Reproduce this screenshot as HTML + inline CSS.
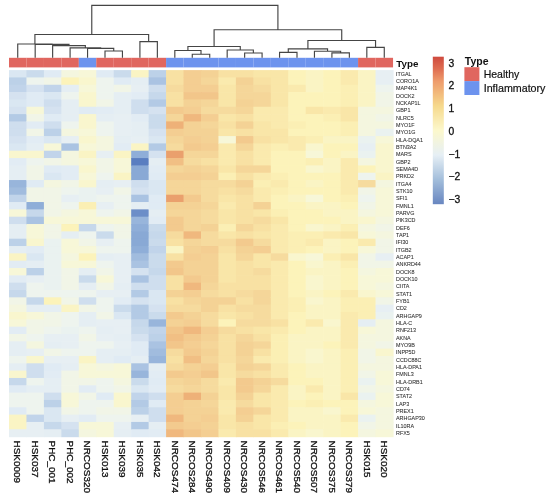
<!DOCTYPE html>
<html><head><meta charset="utf-8"><style>
html,body{margin:0;padding:0;background:#fff;}
body{width:550px;height:498px;overflow:hidden;font-family:"Liberation Sans",sans-serif;}
svg{display:block;filter:blur(0.4px);}
</style></head><body>
<svg width="550" height="498" viewBox="0 0 550 498" font-family="Liberation Sans, sans-serif"><defs><linearGradient id="cg" x1="0" y1="0" x2="0" y2="1"><stop offset="0.0%" stop-color="#CF4A3E"/><stop offset="8.3%" stop-color="#DF6E52"/><stop offset="16.7%" stop-color="#EE9C6C"/><stop offset="33.3%" stop-color="#F6D98C"/><stop offset="50.0%" stop-color="#FCF8CC"/><stop offset="66.7%" stop-color="#E6EFF5"/><stop offset="83.3%" stop-color="#A3BEDB"/><stop offset="100.0%" stop-color="#6886C0"/></linearGradient></defs>
<rect x="9.00" y="70.10" width="18.05" height="7.93" fill="#dae7f2"/>
<rect x="9.00" y="77.43" width="18.05" height="7.93" fill="#bcd1e8"/>
<rect x="9.00" y="84.76" width="18.05" height="7.93" fill="#c1d4ea"/>
<rect x="9.00" y="92.09" width="18.05" height="7.93" fill="#d5e2f0"/>
<rect x="9.00" y="99.42" width="18.05" height="7.93" fill="#dae7f2"/>
<rect x="9.00" y="106.75" width="18.05" height="7.93" fill="#d5e2f0"/>
<rect x="9.00" y="114.08" width="18.05" height="7.93" fill="#b3cae5"/>
<rect x="9.00" y="121.41" width="18.05" height="7.93" fill="#cfdeee"/>
<rect x="9.00" y="128.74" width="18.05" height="7.93" fill="#cfdeee"/>
<rect x="9.00" y="136.07" width="18.05" height="7.93" fill="#d5e2f0"/>
<rect x="9.00" y="143.40" width="18.05" height="7.93" fill="#dae7f2"/>
<rect x="9.00" y="150.73" width="18.05" height="7.93" fill="#f9f6ce"/>
<rect x="9.00" y="158.06" width="18.05" height="7.93" fill="#e2ecf4"/>
<rect x="9.00" y="165.39" width="18.05" height="7.93" fill="#e5eef3"/>
<rect x="9.00" y="172.72" width="18.05" height="7.93" fill="#e5eef3"/>
<rect x="9.00" y="180.05" width="18.05" height="7.93" fill="#98b5db"/>
<rect x="9.00" y="187.38" width="18.05" height="7.93" fill="#a1bcde"/>
<rect x="9.00" y="194.71" width="18.05" height="7.93" fill="#c1d4ea"/>
<rect x="9.00" y="202.04" width="18.05" height="7.93" fill="#e0ebf4"/>
<rect x="9.00" y="209.37" width="18.05" height="7.93" fill="#f7f7d8"/>
<rect x="9.00" y="216.70" width="18.05" height="7.93" fill="#cfdeee"/>
<rect x="9.00" y="224.03" width="18.05" height="7.93" fill="#e5eef3"/>
<rect x="9.00" y="231.36" width="18.05" height="7.93" fill="#e5eef3"/>
<rect x="9.00" y="238.69" width="18.05" height="7.93" fill="#bcd1e8"/>
<rect x="9.00" y="246.02" width="18.05" height="7.93" fill="#e5eef3"/>
<rect x="9.00" y="253.35" width="18.05" height="7.93" fill="#faf4c4"/>
<rect x="9.00" y="260.68" width="18.05" height="7.93" fill="#e2ecf4"/>
<rect x="9.00" y="268.01" width="18.05" height="7.93" fill="#f7f7d8"/>
<rect x="9.00" y="275.34" width="18.05" height="7.93" fill="#e2ecf4"/>
<rect x="9.00" y="282.67" width="18.05" height="7.93" fill="#cfdeee"/>
<rect x="9.00" y="290.00" width="18.05" height="7.93" fill="#c6d8eb"/>
<rect x="9.00" y="297.33" width="18.05" height="7.93" fill="#f1f5e7"/>
<rect x="9.00" y="304.66" width="18.05" height="7.93" fill="#f4f6df"/>
<rect x="9.00" y="311.99" width="18.05" height="7.93" fill="#f9f6ce"/>
<rect x="9.00" y="319.32" width="18.05" height="7.93" fill="#f7f7d8"/>
<rect x="9.00" y="326.65" width="18.05" height="7.93" fill="#e2ecf4"/>
<rect x="9.00" y="333.98" width="18.05" height="7.93" fill="#f1f5e7"/>
<rect x="9.00" y="341.31" width="18.05" height="7.93" fill="#e5eef3"/>
<rect x="9.00" y="348.64" width="18.05" height="7.93" fill="#e5eef3"/>
<rect x="9.00" y="355.97" width="18.05" height="7.93" fill="#eef4ee"/>
<rect x="9.00" y="363.30" width="18.05" height="7.93" fill="#e5eef3"/>
<rect x="9.00" y="370.63" width="18.05" height="7.93" fill="#f9f6ce"/>
<rect x="9.00" y="377.96" width="18.05" height="7.93" fill="#c6d8eb"/>
<rect x="9.00" y="385.29" width="18.05" height="7.93" fill="#e0ebf4"/>
<rect x="9.00" y="392.62" width="18.05" height="7.93" fill="#eef4ee"/>
<rect x="9.00" y="399.95" width="18.05" height="7.93" fill="#eef4ee"/>
<rect x="9.00" y="407.28" width="18.05" height="7.93" fill="#e0ebf4"/>
<rect x="9.00" y="414.61" width="18.05" height="7.93" fill="#faf4c4"/>
<rect x="9.00" y="421.94" width="18.05" height="7.93" fill="#faf4c4"/>
<rect x="9.00" y="429.27" width="18.05" height="7.93" fill="#e7eff3"/>
<rect x="26.45" y="70.10" width="18.05" height="7.93" fill="#cadbec"/>
<rect x="26.45" y="77.43" width="18.05" height="7.93" fill="#eef4ee"/>
<rect x="26.45" y="84.76" width="18.05" height="7.93" fill="#d5e2f0"/>
<rect x="26.45" y="92.09" width="18.05" height="7.93" fill="#e0ebf4"/>
<rect x="26.45" y="99.42" width="18.05" height="7.93" fill="#e0ebf4"/>
<rect x="26.45" y="106.75" width="18.05" height="7.93" fill="#f7f7d8"/>
<rect x="26.45" y="114.08" width="18.05" height="7.93" fill="#f1f5e7"/>
<rect x="26.45" y="121.41" width="18.05" height="7.93" fill="#e2ecf4"/>
<rect x="26.45" y="128.74" width="18.05" height="7.93" fill="#f1f5e7"/>
<rect x="26.45" y="136.07" width="18.05" height="7.93" fill="#e2ecf4"/>
<rect x="26.45" y="143.40" width="18.05" height="7.93" fill="#e5eef3"/>
<rect x="26.45" y="150.73" width="18.05" height="7.93" fill="#f9f6ce"/>
<rect x="26.45" y="158.06" width="18.05" height="7.93" fill="#eef4ee"/>
<rect x="26.45" y="165.39" width="18.05" height="7.93" fill="#f1f5e7"/>
<rect x="26.45" y="172.72" width="18.05" height="7.93" fill="#f1f5e7"/>
<rect x="26.45" y="180.05" width="18.05" height="7.93" fill="#e0ebf4"/>
<rect x="26.45" y="187.38" width="18.05" height="7.93" fill="#f1f5e7"/>
<rect x="26.45" y="194.71" width="18.05" height="7.93" fill="#f1f5e7"/>
<rect x="26.45" y="202.04" width="18.05" height="7.93" fill="#8faed8"/>
<rect x="26.45" y="209.37" width="18.05" height="7.93" fill="#c6d8eb"/>
<rect x="26.45" y="216.70" width="18.05" height="7.93" fill="#aac3e2"/>
<rect x="26.45" y="224.03" width="18.05" height="7.93" fill="#f7f7d8"/>
<rect x="26.45" y="231.36" width="18.05" height="7.93" fill="#f7f7d8"/>
<rect x="26.45" y="238.69" width="18.05" height="7.93" fill="#f9f6ce"/>
<rect x="26.45" y="246.02" width="18.05" height="7.93" fill="#e2ecf4"/>
<rect x="26.45" y="253.35" width="18.05" height="7.93" fill="#dae7f2"/>
<rect x="26.45" y="260.68" width="18.05" height="7.93" fill="#e5eef3"/>
<rect x="26.45" y="268.01" width="18.05" height="7.93" fill="#bcd1e8"/>
<rect x="26.45" y="275.34" width="18.05" height="7.93" fill="#e7eff3"/>
<rect x="26.45" y="282.67" width="18.05" height="7.93" fill="#eef4ee"/>
<rect x="26.45" y="290.00" width="18.05" height="7.93" fill="#eef4ee"/>
<rect x="26.45" y="297.33" width="18.05" height="7.93" fill="#c6d8eb"/>
<rect x="26.45" y="304.66" width="18.05" height="7.93" fill="#e5eef3"/>
<rect x="26.45" y="311.99" width="18.05" height="7.93" fill="#f7f7d8"/>
<rect x="26.45" y="319.32" width="18.05" height="7.93" fill="#f1f5e7"/>
<rect x="26.45" y="326.65" width="18.05" height="7.93" fill="#f1f5e7"/>
<rect x="26.45" y="333.98" width="18.05" height="7.93" fill="#eef4ee"/>
<rect x="26.45" y="341.31" width="18.05" height="7.93" fill="#f4f6df"/>
<rect x="26.45" y="348.64" width="18.05" height="7.93" fill="#e7eff3"/>
<rect x="26.45" y="355.97" width="18.05" height="7.93" fill="#f9f6ce"/>
<rect x="26.45" y="363.30" width="18.05" height="7.93" fill="#cfdeee"/>
<rect x="26.45" y="370.63" width="18.05" height="7.93" fill="#cfdeee"/>
<rect x="26.45" y="377.96" width="18.05" height="7.93" fill="#eef4ee"/>
<rect x="26.45" y="385.29" width="18.05" height="7.93" fill="#e5eef3"/>
<rect x="26.45" y="392.62" width="18.05" height="7.93" fill="#eef4ee"/>
<rect x="26.45" y="399.95" width="18.05" height="7.93" fill="#eef4ee"/>
<rect x="26.45" y="407.28" width="18.05" height="7.93" fill="#eef4ee"/>
<rect x="26.45" y="414.61" width="18.05" height="7.93" fill="#c1d4ea"/>
<rect x="26.45" y="421.94" width="18.05" height="7.93" fill="#e7eff3"/>
<rect x="26.45" y="429.27" width="18.05" height="7.93" fill="#e7eff3"/>
<rect x="43.91" y="70.10" width="18.05" height="7.93" fill="#e0ebf4"/>
<rect x="43.91" y="77.43" width="18.05" height="7.93" fill="#f1f5e7"/>
<rect x="43.91" y="84.76" width="18.05" height="7.93" fill="#c1d4ea"/>
<rect x="43.91" y="92.09" width="18.05" height="7.93" fill="#dae7f2"/>
<rect x="43.91" y="99.42" width="18.05" height="7.93" fill="#cfdeee"/>
<rect x="43.91" y="106.75" width="18.05" height="7.93" fill="#d5e2f0"/>
<rect x="43.91" y="114.08" width="18.05" height="7.93" fill="#e0ebf4"/>
<rect x="43.91" y="121.41" width="18.05" height="7.93" fill="#cfdeee"/>
<rect x="43.91" y="128.74" width="18.05" height="7.93" fill="#bcd1e8"/>
<rect x="43.91" y="136.07" width="18.05" height="7.93" fill="#dae7f2"/>
<rect x="43.91" y="143.40" width="18.05" height="7.93" fill="#f7f7d8"/>
<rect x="43.91" y="150.73" width="18.05" height="7.93" fill="#c1d4ea"/>
<rect x="43.91" y="158.06" width="18.05" height="7.93" fill="#f1f5e7"/>
<rect x="43.91" y="165.39" width="18.05" height="7.93" fill="#e0ebf4"/>
<rect x="43.91" y="172.72" width="18.05" height="7.93" fill="#dae7f2"/>
<rect x="43.91" y="180.05" width="18.05" height="7.93" fill="#f4f6df"/>
<rect x="43.91" y="187.38" width="18.05" height="7.93" fill="#f1f5e7"/>
<rect x="43.91" y="194.71" width="18.05" height="7.93" fill="#f1f5e7"/>
<rect x="43.91" y="202.04" width="18.05" height="7.93" fill="#f1f5e7"/>
<rect x="43.91" y="209.37" width="18.05" height="7.93" fill="#f1f5e7"/>
<rect x="43.91" y="216.70" width="18.05" height="7.93" fill="#f7f7d8"/>
<rect x="43.91" y="224.03" width="18.05" height="7.93" fill="#f1f5e7"/>
<rect x="43.91" y="231.36" width="18.05" height="7.93" fill="#f1f5e7"/>
<rect x="43.91" y="238.69" width="18.05" height="7.93" fill="#eaf2f0"/>
<rect x="43.91" y="246.02" width="18.05" height="7.93" fill="#eaf2f0"/>
<rect x="43.91" y="253.35" width="18.05" height="7.93" fill="#eaf2f0"/>
<rect x="43.91" y="260.68" width="18.05" height="7.93" fill="#eaf2f0"/>
<rect x="43.91" y="268.01" width="18.05" height="7.93" fill="#eaf2f0"/>
<rect x="43.91" y="275.34" width="18.05" height="7.93" fill="#eaf2f0"/>
<rect x="43.91" y="282.67" width="18.05" height="7.93" fill="#eaf2f0"/>
<rect x="43.91" y="290.00" width="18.05" height="7.93" fill="#eef4ee"/>
<rect x="43.91" y="297.33" width="18.05" height="7.93" fill="#fcf3ba"/>
<rect x="43.91" y="304.66" width="18.05" height="7.93" fill="#e5eef3"/>
<rect x="43.91" y="311.99" width="18.05" height="7.93" fill="#f1f5e7"/>
<rect x="43.91" y="319.32" width="18.05" height="7.93" fill="#f1f5e7"/>
<rect x="43.91" y="326.65" width="18.05" height="7.93" fill="#eef4ee"/>
<rect x="43.91" y="333.98" width="18.05" height="7.93" fill="#e7eff3"/>
<rect x="43.91" y="341.31" width="18.05" height="7.93" fill="#e5eef3"/>
<rect x="43.91" y="348.64" width="18.05" height="7.93" fill="#f1f5e7"/>
<rect x="43.91" y="355.97" width="18.05" height="7.93" fill="#e7eff3"/>
<rect x="43.91" y="363.30" width="18.05" height="7.93" fill="#e0ebf4"/>
<rect x="43.91" y="370.63" width="18.05" height="7.93" fill="#e2ecf4"/>
<rect x="43.91" y="377.96" width="18.05" height="7.93" fill="#e5eef3"/>
<rect x="43.91" y="385.29" width="18.05" height="7.93" fill="#e5eef3"/>
<rect x="43.91" y="392.62" width="18.05" height="7.93" fill="#cfdeee"/>
<rect x="43.91" y="399.95" width="18.05" height="7.93" fill="#bcd1e8"/>
<rect x="43.91" y="407.28" width="18.05" height="7.93" fill="#dae7f2"/>
<rect x="43.91" y="414.61" width="18.05" height="7.93" fill="#dae7f2"/>
<rect x="43.91" y="421.94" width="18.05" height="7.93" fill="#c6d8eb"/>
<rect x="43.91" y="429.27" width="18.05" height="7.93" fill="#e5eef3"/>
<rect x="61.36" y="70.10" width="18.05" height="7.93" fill="#f4f6df"/>
<rect x="61.36" y="77.43" width="18.05" height="7.93" fill="#fcf3ba"/>
<rect x="61.36" y="84.76" width="18.05" height="7.93" fill="#e5eef3"/>
<rect x="61.36" y="92.09" width="18.05" height="7.93" fill="#eef4ee"/>
<rect x="61.36" y="99.42" width="18.05" height="7.93" fill="#e5eef3"/>
<rect x="61.36" y="106.75" width="18.05" height="7.93" fill="#e5eef3"/>
<rect x="61.36" y="114.08" width="18.05" height="7.93" fill="#e5eef3"/>
<rect x="61.36" y="121.41" width="18.05" height="7.93" fill="#eef4ee"/>
<rect x="61.36" y="128.74" width="18.05" height="7.93" fill="#f4f6df"/>
<rect x="61.36" y="136.07" width="18.05" height="7.93" fill="#e7eff3"/>
<rect x="61.36" y="143.40" width="18.05" height="7.93" fill="#aac3e2"/>
<rect x="61.36" y="150.73" width="18.05" height="7.93" fill="#f4f6df"/>
<rect x="61.36" y="158.06" width="18.05" height="7.93" fill="#f4f6df"/>
<rect x="61.36" y="165.39" width="18.05" height="7.93" fill="#e2ecf4"/>
<rect x="61.36" y="172.72" width="18.05" height="7.93" fill="#e2ecf4"/>
<rect x="61.36" y="180.05" width="18.05" height="7.93" fill="#f1f5e7"/>
<rect x="61.36" y="187.38" width="18.05" height="7.93" fill="#eef4ee"/>
<rect x="61.36" y="194.71" width="18.05" height="7.93" fill="#e7eff3"/>
<rect x="61.36" y="202.04" width="18.05" height="7.93" fill="#eef4ee"/>
<rect x="61.36" y="209.37" width="18.05" height="7.93" fill="#f4f6df"/>
<rect x="61.36" y="216.70" width="18.05" height="7.93" fill="#f7f7d8"/>
<rect x="61.36" y="224.03" width="18.05" height="7.93" fill="#fcf3ba"/>
<rect x="61.36" y="231.36" width="18.05" height="7.93" fill="#e5eef3"/>
<rect x="61.36" y="238.69" width="18.05" height="7.93" fill="#f7f7d8"/>
<rect x="61.36" y="246.02" width="18.05" height="7.93" fill="#f7f7d8"/>
<rect x="61.36" y="253.35" width="18.05" height="7.93" fill="#f4f6df"/>
<rect x="61.36" y="260.68" width="18.05" height="7.93" fill="#f7f7d8"/>
<rect x="61.36" y="268.01" width="18.05" height="7.93" fill="#f1f5e7"/>
<rect x="61.36" y="275.34" width="18.05" height="7.93" fill="#f1f5e7"/>
<rect x="61.36" y="282.67" width="18.05" height="7.93" fill="#f1f5e7"/>
<rect x="61.36" y="290.00" width="18.05" height="7.93" fill="#eef4ee"/>
<rect x="61.36" y="297.33" width="18.05" height="7.93" fill="#f1f5e7"/>
<rect x="61.36" y="304.66" width="18.05" height="7.93" fill="#faf4c4"/>
<rect x="61.36" y="311.99" width="18.05" height="7.93" fill="#eef4ee"/>
<rect x="61.36" y="319.32" width="18.05" height="7.93" fill="#eef4ee"/>
<rect x="61.36" y="326.65" width="18.05" height="7.93" fill="#eaf2f0"/>
<rect x="61.36" y="333.98" width="18.05" height="7.93" fill="#e7eff3"/>
<rect x="61.36" y="341.31" width="18.05" height="7.93" fill="#e7eff3"/>
<rect x="61.36" y="348.64" width="18.05" height="7.93" fill="#eef4ee"/>
<rect x="61.36" y="355.97" width="18.05" height="7.93" fill="#e7eff3"/>
<rect x="61.36" y="363.30" width="18.05" height="7.93" fill="#e5eef3"/>
<rect x="61.36" y="370.63" width="18.05" height="7.93" fill="#f1f5e7"/>
<rect x="61.36" y="377.96" width="18.05" height="7.93" fill="#f1f5e7"/>
<rect x="61.36" y="385.29" width="18.05" height="7.93" fill="#f1f5e7"/>
<rect x="61.36" y="392.62" width="18.05" height="7.93" fill="#f7f7d8"/>
<rect x="61.36" y="399.95" width="18.05" height="7.93" fill="#f7f7d8"/>
<rect x="61.36" y="407.28" width="18.05" height="7.93" fill="#f1f5e7"/>
<rect x="61.36" y="414.61" width="18.05" height="7.93" fill="#e7eff3"/>
<rect x="61.36" y="421.94" width="18.05" height="7.93" fill="#d5e2f0"/>
<rect x="61.36" y="429.27" width="18.05" height="7.93" fill="#cadbec"/>
<rect x="78.82" y="70.10" width="18.05" height="7.93" fill="#f7f7d8"/>
<rect x="78.82" y="77.43" width="18.05" height="7.93" fill="#f9f6ce"/>
<rect x="78.82" y="84.76" width="18.05" height="7.93" fill="#f7f7d8"/>
<rect x="78.82" y="92.09" width="18.05" height="7.93" fill="#f9f6ce"/>
<rect x="78.82" y="99.42" width="18.05" height="7.93" fill="#f9f6ce"/>
<rect x="78.82" y="106.75" width="18.05" height="7.93" fill="#e0ebf4"/>
<rect x="78.82" y="114.08" width="18.05" height="7.93" fill="#f9f6ce"/>
<rect x="78.82" y="121.41" width="18.05" height="7.93" fill="#f9f6ce"/>
<rect x="78.82" y="128.74" width="18.05" height="7.93" fill="#f7f7d8"/>
<rect x="78.82" y="136.07" width="18.05" height="7.93" fill="#f9f6ce"/>
<rect x="78.82" y="143.40" width="18.05" height="7.93" fill="#f7f7d8"/>
<rect x="78.82" y="150.73" width="18.05" height="7.93" fill="#faf4c4"/>
<rect x="78.82" y="158.06" width="18.05" height="7.93" fill="#f7f7d8"/>
<rect x="78.82" y="165.39" width="18.05" height="7.93" fill="#f9f6ce"/>
<rect x="78.82" y="172.72" width="18.05" height="7.93" fill="#f7f7d8"/>
<rect x="78.82" y="180.05" width="18.05" height="7.93" fill="#f9f6ce"/>
<rect x="78.82" y="187.38" width="18.05" height="7.93" fill="#eaf2f0"/>
<rect x="78.82" y="194.71" width="18.05" height="7.93" fill="#eaf2f0"/>
<rect x="78.82" y="202.04" width="18.05" height="7.93" fill="#fbefb4"/>
<rect x="78.82" y="209.37" width="18.05" height="7.93" fill="#f7f7d8"/>
<rect x="78.82" y="216.70" width="18.05" height="7.93" fill="#f7f7d8"/>
<rect x="78.82" y="224.03" width="18.05" height="7.93" fill="#c6d8eb"/>
<rect x="78.82" y="231.36" width="18.05" height="7.93" fill="#eef4ee"/>
<rect x="78.82" y="238.69" width="18.05" height="7.93" fill="#f1f5e7"/>
<rect x="78.82" y="246.02" width="18.05" height="7.93" fill="#f7f7d8"/>
<rect x="78.82" y="253.35" width="18.05" height="7.93" fill="#fcf3ba"/>
<rect x="78.82" y="260.68" width="18.05" height="7.93" fill="#f7f7d8"/>
<rect x="78.82" y="268.01" width="18.05" height="7.93" fill="#e5eef3"/>
<rect x="78.82" y="275.34" width="18.05" height="7.93" fill="#cadbec"/>
<rect x="78.82" y="282.67" width="18.05" height="7.93" fill="#e5eef3"/>
<rect x="78.82" y="290.00" width="18.05" height="7.93" fill="#eef4ee"/>
<rect x="78.82" y="297.33" width="18.05" height="7.93" fill="#cfdeee"/>
<rect x="78.82" y="304.66" width="18.05" height="7.93" fill="#f1f5e7"/>
<rect x="78.82" y="311.99" width="18.05" height="7.93" fill="#e5eef3"/>
<rect x="78.82" y="319.32" width="18.05" height="7.93" fill="#e5eef3"/>
<rect x="78.82" y="326.65" width="18.05" height="7.93" fill="#eef4ee"/>
<rect x="78.82" y="333.98" width="18.05" height="7.93" fill="#f1f5e7"/>
<rect x="78.82" y="341.31" width="18.05" height="7.93" fill="#eef4ee"/>
<rect x="78.82" y="348.64" width="18.05" height="7.93" fill="#eef4ee"/>
<rect x="78.82" y="355.97" width="18.05" height="7.93" fill="#faf4c4"/>
<rect x="78.82" y="363.30" width="18.05" height="7.93" fill="#f7f7d8"/>
<rect x="78.82" y="370.63" width="18.05" height="7.93" fill="#f7f7d8"/>
<rect x="78.82" y="377.96" width="18.05" height="7.93" fill="#f1f5e7"/>
<rect x="78.82" y="385.29" width="18.05" height="7.93" fill="#e2ecf4"/>
<rect x="78.82" y="392.62" width="18.05" height="7.93" fill="#f1f5e7"/>
<rect x="78.82" y="399.95" width="18.05" height="7.93" fill="#eef4ee"/>
<rect x="78.82" y="407.28" width="18.05" height="7.93" fill="#eef4ee"/>
<rect x="78.82" y="414.61" width="18.05" height="7.93" fill="#e2ecf4"/>
<rect x="78.82" y="421.94" width="18.05" height="7.93" fill="#f7f7d8"/>
<rect x="78.82" y="429.27" width="18.05" height="7.93" fill="#f4f6df"/>
<rect x="96.27" y="70.10" width="18.05" height="7.93" fill="#e0ebf4"/>
<rect x="96.27" y="77.43" width="18.05" height="7.93" fill="#eef4ee"/>
<rect x="96.27" y="84.76" width="18.05" height="7.93" fill="#eef4ee"/>
<rect x="96.27" y="92.09" width="18.05" height="7.93" fill="#eef4ee"/>
<rect x="96.27" y="99.42" width="18.05" height="7.93" fill="#f1f5e7"/>
<rect x="96.27" y="106.75" width="18.05" height="7.93" fill="#e2ecf4"/>
<rect x="96.27" y="114.08" width="18.05" height="7.93" fill="#e5eef3"/>
<rect x="96.27" y="121.41" width="18.05" height="7.93" fill="#eef4ee"/>
<rect x="96.27" y="128.74" width="18.05" height="7.93" fill="#eef4ee"/>
<rect x="96.27" y="136.07" width="18.05" height="7.93" fill="#f4f6df"/>
<rect x="96.27" y="143.40" width="18.05" height="7.93" fill="#f4f6df"/>
<rect x="96.27" y="150.73" width="18.05" height="7.93" fill="#e7eff3"/>
<rect x="96.27" y="158.06" width="18.05" height="7.93" fill="#f1f5e7"/>
<rect x="96.27" y="165.39" width="18.05" height="7.93" fill="#f1f5e7"/>
<rect x="96.27" y="172.72" width="18.05" height="7.93" fill="#eef4ee"/>
<rect x="96.27" y="180.05" width="18.05" height="7.93" fill="#e5eef3"/>
<rect x="96.27" y="187.38" width="18.05" height="7.93" fill="#e7eff3"/>
<rect x="96.27" y="194.71" width="18.05" height="7.93" fill="#eef4ee"/>
<rect x="96.27" y="202.04" width="18.05" height="7.93" fill="#e7eff3"/>
<rect x="96.27" y="209.37" width="18.05" height="7.93" fill="#eef4ee"/>
<rect x="96.27" y="216.70" width="18.05" height="7.93" fill="#f7f7d8"/>
<rect x="96.27" y="224.03" width="18.05" height="7.93" fill="#eef4ee"/>
<rect x="96.27" y="231.36" width="18.05" height="7.93" fill="#cadbec"/>
<rect x="96.27" y="238.69" width="18.05" height="7.93" fill="#e7eff3"/>
<rect x="96.27" y="246.02" width="18.05" height="7.93" fill="#eef4ee"/>
<rect x="96.27" y="253.35" width="18.05" height="7.93" fill="#e5eef3"/>
<rect x="96.27" y="260.68" width="18.05" height="7.93" fill="#eef4ee"/>
<rect x="96.27" y="268.01" width="18.05" height="7.93" fill="#f1f5e7"/>
<rect x="96.27" y="275.34" width="18.05" height="7.93" fill="#f7f7d8"/>
<rect x="96.27" y="282.67" width="18.05" height="7.93" fill="#f1f5e7"/>
<rect x="96.27" y="290.00" width="18.05" height="7.93" fill="#e7eff3"/>
<rect x="96.27" y="297.33" width="18.05" height="7.93" fill="#eef4ee"/>
<rect x="96.27" y="304.66" width="18.05" height="7.93" fill="#eef4ee"/>
<rect x="96.27" y="311.99" width="18.05" height="7.93" fill="#f1f5e7"/>
<rect x="96.27" y="319.32" width="18.05" height="7.93" fill="#e7eff3"/>
<rect x="96.27" y="326.65" width="18.05" height="7.93" fill="#e5eef3"/>
<rect x="96.27" y="333.98" width="18.05" height="7.93" fill="#e7eff3"/>
<rect x="96.27" y="341.31" width="18.05" height="7.93" fill="#eef4ee"/>
<rect x="96.27" y="348.64" width="18.05" height="7.93" fill="#e5eef3"/>
<rect x="96.27" y="355.97" width="18.05" height="7.93" fill="#e5eef3"/>
<rect x="96.27" y="363.30" width="18.05" height="7.93" fill="#f4f6df"/>
<rect x="96.27" y="370.63" width="18.05" height="7.93" fill="#f7f7d8"/>
<rect x="96.27" y="377.96" width="18.05" height="7.93" fill="#eef4ee"/>
<rect x="96.27" y="385.29" width="18.05" height="7.93" fill="#eef4ee"/>
<rect x="96.27" y="392.62" width="18.05" height="7.93" fill="#e0ebf4"/>
<rect x="96.27" y="399.95" width="18.05" height="7.93" fill="#eef4ee"/>
<rect x="96.27" y="407.28" width="18.05" height="7.93" fill="#f1f5e7"/>
<rect x="96.27" y="414.61" width="18.05" height="7.93" fill="#eef4ee"/>
<rect x="96.27" y="421.94" width="18.05" height="7.93" fill="#f7f7d8"/>
<rect x="96.27" y="429.27" width="18.05" height="7.93" fill="#f7f7d8"/>
<rect x="113.73" y="70.10" width="18.05" height="7.93" fill="#cadbec"/>
<rect x="113.73" y="77.43" width="18.05" height="7.93" fill="#e0ebf4"/>
<rect x="113.73" y="84.76" width="18.05" height="7.93" fill="#f1f5e7"/>
<rect x="113.73" y="92.09" width="18.05" height="7.93" fill="#e5eef3"/>
<rect x="113.73" y="99.42" width="18.05" height="7.93" fill="#e5eef3"/>
<rect x="113.73" y="106.75" width="18.05" height="7.93" fill="#e5eef3"/>
<rect x="113.73" y="114.08" width="18.05" height="7.93" fill="#e7eff3"/>
<rect x="113.73" y="121.41" width="18.05" height="7.93" fill="#e7eff3"/>
<rect x="113.73" y="128.74" width="18.05" height="7.93" fill="#e7eff3"/>
<rect x="113.73" y="136.07" width="18.05" height="7.93" fill="#e5eef3"/>
<rect x="113.73" y="143.40" width="18.05" height="7.93" fill="#e2ecf4"/>
<rect x="113.73" y="150.73" width="18.05" height="7.93" fill="#faf4c4"/>
<rect x="113.73" y="158.06" width="18.05" height="7.93" fill="#f7f7d8"/>
<rect x="113.73" y="165.39" width="18.05" height="7.93" fill="#f7f7d8"/>
<rect x="113.73" y="172.72" width="18.05" height="7.93" fill="#faf4c4"/>
<rect x="113.73" y="180.05" width="18.05" height="7.93" fill="#e7eff3"/>
<rect x="113.73" y="187.38" width="18.05" height="7.93" fill="#f1f5e7"/>
<rect x="113.73" y="194.71" width="18.05" height="7.93" fill="#eef4ee"/>
<rect x="113.73" y="202.04" width="18.05" height="7.93" fill="#eef4ee"/>
<rect x="113.73" y="209.37" width="18.05" height="7.93" fill="#f1f5e7"/>
<rect x="113.73" y="216.70" width="18.05" height="7.93" fill="#f7f7d8"/>
<rect x="113.73" y="224.03" width="18.05" height="7.93" fill="#f1f5e7"/>
<rect x="113.73" y="231.36" width="18.05" height="7.93" fill="#f1f5e7"/>
<rect x="113.73" y="238.69" width="18.05" height="7.93" fill="#eef4ee"/>
<rect x="113.73" y="246.02" width="18.05" height="7.93" fill="#eef4ee"/>
<rect x="113.73" y="253.35" width="18.05" height="7.93" fill="#e7eff3"/>
<rect x="113.73" y="260.68" width="18.05" height="7.93" fill="#e7eff3"/>
<rect x="113.73" y="268.01" width="18.05" height="7.93" fill="#e7eff3"/>
<rect x="113.73" y="275.34" width="18.05" height="7.93" fill="#e7eff3"/>
<rect x="113.73" y="282.67" width="18.05" height="7.93" fill="#e5eef3"/>
<rect x="113.73" y="290.00" width="18.05" height="7.93" fill="#e7eff3"/>
<rect x="113.73" y="297.33" width="18.05" height="7.93" fill="#e2ecf4"/>
<rect x="113.73" y="304.66" width="18.05" height="7.93" fill="#cadbec"/>
<rect x="113.73" y="311.99" width="18.05" height="7.93" fill="#dae7f2"/>
<rect x="113.73" y="319.32" width="18.05" height="7.93" fill="#e7eff3"/>
<rect x="113.73" y="326.65" width="18.05" height="7.93" fill="#e7eff3"/>
<rect x="113.73" y="333.98" width="18.05" height="7.93" fill="#e5eef3"/>
<rect x="113.73" y="341.31" width="18.05" height="7.93" fill="#e7eff3"/>
<rect x="113.73" y="348.64" width="18.05" height="7.93" fill="#e5eef3"/>
<rect x="113.73" y="355.97" width="18.05" height="7.93" fill="#e0ebf4"/>
<rect x="113.73" y="363.30" width="18.05" height="7.93" fill="#f7f7d8"/>
<rect x="113.73" y="370.63" width="18.05" height="7.93" fill="#f7f7d8"/>
<rect x="113.73" y="377.96" width="18.05" height="7.93" fill="#f4f6df"/>
<rect x="113.73" y="385.29" width="18.05" height="7.93" fill="#f1f5e7"/>
<rect x="113.73" y="392.62" width="18.05" height="7.93" fill="#f9f6ce"/>
<rect x="113.73" y="399.95" width="18.05" height="7.93" fill="#f9f6ce"/>
<rect x="113.73" y="407.28" width="18.05" height="7.93" fill="#f1f5e7"/>
<rect x="113.73" y="414.61" width="18.05" height="7.93" fill="#eef4ee"/>
<rect x="113.73" y="421.94" width="18.05" height="7.93" fill="#e7eff3"/>
<rect x="113.73" y="429.27" width="18.05" height="7.93" fill="#e5eef3"/>
<rect x="131.18" y="70.10" width="18.05" height="7.93" fill="#faf4c4"/>
<rect x="131.18" y="77.43" width="18.05" height="7.93" fill="#e5eef3"/>
<rect x="131.18" y="84.76" width="18.05" height="7.93" fill="#e7eff3"/>
<rect x="131.18" y="92.09" width="18.05" height="7.93" fill="#e2ecf4"/>
<rect x="131.18" y="99.42" width="18.05" height="7.93" fill="#cfdeee"/>
<rect x="131.18" y="106.75" width="18.05" height="7.93" fill="#cfdeee"/>
<rect x="131.18" y="114.08" width="18.05" height="7.93" fill="#e2ecf4"/>
<rect x="131.18" y="121.41" width="18.05" height="7.93" fill="#e5eef3"/>
<rect x="131.18" y="128.74" width="18.05" height="7.93" fill="#e5eef3"/>
<rect x="131.18" y="136.07" width="18.05" height="7.93" fill="#e7eff3"/>
<rect x="131.18" y="143.40" width="18.05" height="7.93" fill="#faf4c4"/>
<rect x="131.18" y="150.73" width="18.05" height="7.93" fill="#8faed8"/>
<rect x="131.18" y="158.06" width="18.05" height="7.93" fill="#5a7ec0"/>
<rect x="131.18" y="165.39" width="18.05" height="7.93" fill="#89a9d5"/>
<rect x="131.18" y="172.72" width="18.05" height="7.93" fill="#89a9d5"/>
<rect x="131.18" y="180.05" width="18.05" height="7.93" fill="#cfdeee"/>
<rect x="131.18" y="187.38" width="18.05" height="7.93" fill="#d5e2f0"/>
<rect x="131.18" y="194.71" width="18.05" height="7.93" fill="#aac3e2"/>
<rect x="131.18" y="202.04" width="18.05" height="7.93" fill="#e5eef3"/>
<rect x="131.18" y="209.37" width="18.05" height="7.93" fill="#6c8ec8"/>
<rect x="131.18" y="216.70" width="18.05" height="7.93" fill="#98b5db"/>
<rect x="131.18" y="224.03" width="18.05" height="7.93" fill="#8faed8"/>
<rect x="131.18" y="231.36" width="18.05" height="7.93" fill="#89a9d5"/>
<rect x="131.18" y="238.69" width="18.05" height="7.93" fill="#89a9d5"/>
<rect x="131.18" y="246.02" width="18.05" height="7.93" fill="#8faed8"/>
<rect x="131.18" y="253.35" width="18.05" height="7.93" fill="#a1bcde"/>
<rect x="131.18" y="260.68" width="18.05" height="7.93" fill="#aac3e2"/>
<rect x="131.18" y="268.01" width="18.05" height="7.93" fill="#d5e2f0"/>
<rect x="131.18" y="275.34" width="18.05" height="7.93" fill="#aac3e2"/>
<rect x="131.18" y="282.67" width="18.05" height="7.93" fill="#cfdeee"/>
<rect x="131.18" y="290.00" width="18.05" height="7.93" fill="#b3cae5"/>
<rect x="131.18" y="297.33" width="18.05" height="7.93" fill="#d5e2f0"/>
<rect x="131.18" y="304.66" width="18.05" height="7.93" fill="#b3cae5"/>
<rect x="131.18" y="311.99" width="18.05" height="7.93" fill="#b3cae5"/>
<rect x="131.18" y="319.32" width="18.05" height="7.93" fill="#c6d8eb"/>
<rect x="131.18" y="326.65" width="18.05" height="7.93" fill="#cadbec"/>
<rect x="131.18" y="333.98" width="18.05" height="7.93" fill="#d5e2f0"/>
<rect x="131.18" y="341.31" width="18.05" height="7.93" fill="#e0ebf4"/>
<rect x="131.18" y="348.64" width="18.05" height="7.93" fill="#e0ebf4"/>
<rect x="131.18" y="355.97" width="18.05" height="7.93" fill="#e5eef3"/>
<rect x="131.18" y="363.30" width="18.05" height="7.93" fill="#aac3e2"/>
<rect x="131.18" y="370.63" width="18.05" height="7.93" fill="#98b5db"/>
<rect x="131.18" y="377.96" width="18.05" height="7.93" fill="#cadbec"/>
<rect x="131.18" y="385.29" width="18.05" height="7.93" fill="#dae7f2"/>
<rect x="131.18" y="392.62" width="18.05" height="7.93" fill="#c1d4ea"/>
<rect x="131.18" y="399.95" width="18.05" height="7.93" fill="#b3cae5"/>
<rect x="131.18" y="407.28" width="18.05" height="7.93" fill="#bcd1e8"/>
<rect x="131.18" y="414.61" width="18.05" height="7.93" fill="#e7eff3"/>
<rect x="131.18" y="421.94" width="18.05" height="7.93" fill="#b3cae5"/>
<rect x="131.18" y="429.27" width="18.05" height="7.93" fill="#e0ebf4"/>
<rect x="148.64" y="70.10" width="18.05" height="7.93" fill="#bcd1e8"/>
<rect x="148.64" y="77.43" width="18.05" height="7.93" fill="#aac3e2"/>
<rect x="148.64" y="84.76" width="18.05" height="7.93" fill="#cfdeee"/>
<rect x="148.64" y="92.09" width="18.05" height="7.93" fill="#c6d8eb"/>
<rect x="148.64" y="99.42" width="18.05" height="7.93" fill="#b3cae5"/>
<rect x="148.64" y="106.75" width="18.05" height="7.93" fill="#d5e2f0"/>
<rect x="148.64" y="114.08" width="18.05" height="7.93" fill="#cadbec"/>
<rect x="148.64" y="121.41" width="18.05" height="7.93" fill="#cadbec"/>
<rect x="148.64" y="128.74" width="18.05" height="7.93" fill="#d5e2f0"/>
<rect x="148.64" y="136.07" width="18.05" height="7.93" fill="#dae7f2"/>
<rect x="148.64" y="143.40" width="18.05" height="7.93" fill="#b3cae5"/>
<rect x="148.64" y="150.73" width="18.05" height="7.93" fill="#d5e2f0"/>
<rect x="148.64" y="158.06" width="18.05" height="7.93" fill="#e5eef3"/>
<rect x="148.64" y="165.39" width="18.05" height="7.93" fill="#e2ecf4"/>
<rect x="148.64" y="172.72" width="18.05" height="7.93" fill="#e0ebf4"/>
<rect x="148.64" y="180.05" width="18.05" height="7.93" fill="#dae7f2"/>
<rect x="148.64" y="187.38" width="18.05" height="7.93" fill="#dae7f2"/>
<rect x="148.64" y="194.71" width="18.05" height="7.93" fill="#e0ebf4"/>
<rect x="148.64" y="202.04" width="18.05" height="7.93" fill="#e0ebf4"/>
<rect x="148.64" y="209.37" width="18.05" height="7.93" fill="#e5eef3"/>
<rect x="148.64" y="216.70" width="18.05" height="7.93" fill="#e2ecf4"/>
<rect x="148.64" y="224.03" width="18.05" height="7.93" fill="#cadbec"/>
<rect x="148.64" y="231.36" width="18.05" height="7.93" fill="#c6d8eb"/>
<rect x="148.64" y="238.69" width="18.05" height="7.93" fill="#cadbec"/>
<rect x="148.64" y="246.02" width="18.05" height="7.93" fill="#c1d4ea"/>
<rect x="148.64" y="253.35" width="18.05" height="7.93" fill="#cadbec"/>
<rect x="148.64" y="260.68" width="18.05" height="7.93" fill="#cadbec"/>
<rect x="148.64" y="268.01" width="18.05" height="7.93" fill="#c6d8eb"/>
<rect x="148.64" y="275.34" width="18.05" height="7.93" fill="#cfdeee"/>
<rect x="148.64" y="282.67" width="18.05" height="7.93" fill="#cfdeee"/>
<rect x="148.64" y="290.00" width="18.05" height="7.93" fill="#dae7f2"/>
<rect x="148.64" y="297.33" width="18.05" height="7.93" fill="#dae7f2"/>
<rect x="148.64" y="304.66" width="18.05" height="7.93" fill="#d5e2f0"/>
<rect x="148.64" y="311.99" width="18.05" height="7.93" fill="#cadbec"/>
<rect x="148.64" y="319.32" width="18.05" height="7.93" fill="#98b5db"/>
<rect x="148.64" y="326.65" width="18.05" height="7.93" fill="#c1d4ea"/>
<rect x="148.64" y="333.98" width="18.05" height="7.93" fill="#bcd1e8"/>
<rect x="148.64" y="341.31" width="18.05" height="7.93" fill="#aac3e2"/>
<rect x="148.64" y="348.64" width="18.05" height="7.93" fill="#a1bcde"/>
<rect x="148.64" y="355.97" width="18.05" height="7.93" fill="#98b5db"/>
<rect x="148.64" y="363.30" width="18.05" height="7.93" fill="#e5eef3"/>
<rect x="148.64" y="370.63" width="18.05" height="7.93" fill="#e2ecf4"/>
<rect x="148.64" y="377.96" width="18.05" height="7.93" fill="#e0ebf4"/>
<rect x="148.64" y="385.29" width="18.05" height="7.93" fill="#e2ecf4"/>
<rect x="148.64" y="392.62" width="18.05" height="7.93" fill="#cfdeee"/>
<rect x="148.64" y="399.95" width="18.05" height="7.93" fill="#e0ebf4"/>
<rect x="148.64" y="407.28" width="18.05" height="7.93" fill="#cfdeee"/>
<rect x="148.64" y="414.61" width="18.05" height="7.93" fill="#cfdeee"/>
<rect x="148.64" y="421.94" width="18.05" height="7.93" fill="#e5eef3"/>
<rect x="148.64" y="429.27" width="18.05" height="7.93" fill="#e2ecf4"/>
<rect x="166.09" y="70.10" width="18.05" height="7.93" fill="#f8e1a3"/>
<rect x="166.09" y="77.43" width="18.05" height="7.93" fill="#f8e1a3"/>
<rect x="166.09" y="84.76" width="18.05" height="7.93" fill="#f6db9e"/>
<rect x="166.09" y="92.09" width="18.05" height="7.93" fill="#f8e1a3"/>
<rect x="166.09" y="99.42" width="18.05" height="7.93" fill="#f8e1a3"/>
<rect x="166.09" y="106.75" width="18.05" height="7.93" fill="#f3ca8e"/>
<rect x="166.09" y="114.08" width="18.05" height="7.93" fill="#f5d699"/>
<rect x="166.09" y="121.41" width="18.05" height="7.93" fill="#eeb178"/>
<rect x="166.09" y="128.74" width="18.05" height="7.93" fill="#f4ce92"/>
<rect x="166.09" y="136.07" width="18.05" height="7.93" fill="#f5d699"/>
<rect x="166.09" y="143.40" width="18.05" height="7.93" fill="#f6db9e"/>
<rect x="166.09" y="150.73" width="18.05" height="7.93" fill="#eaa06d"/>
<rect x="166.09" y="158.06" width="18.05" height="7.93" fill="#f1bf84"/>
<rect x="166.09" y="165.39" width="18.05" height="7.93" fill="#f5d699"/>
<rect x="166.09" y="172.72" width="18.05" height="7.93" fill="#f4ce92"/>
<rect x="166.09" y="180.05" width="18.05" height="7.93" fill="#f5d699"/>
<rect x="166.09" y="187.38" width="18.05" height="7.93" fill="#f5d699"/>
<rect x="166.09" y="194.71" width="18.05" height="7.93" fill="#eaa06d"/>
<rect x="166.09" y="202.04" width="18.05" height="7.93" fill="#f4d295"/>
<rect x="166.09" y="209.37" width="18.05" height="7.93" fill="#f5d699"/>
<rect x="166.09" y="216.70" width="18.05" height="7.93" fill="#f3ca8e"/>
<rect x="166.09" y="224.03" width="18.05" height="7.93" fill="#f3ca8e"/>
<rect x="166.09" y="231.36" width="18.05" height="7.93" fill="#f6db9e"/>
<rect x="166.09" y="238.69" width="18.05" height="7.93" fill="#f8e1a3"/>
<rect x="166.09" y="246.02" width="18.05" height="7.93" fill="#faf4c4"/>
<rect x="166.09" y="253.35" width="18.05" height="7.93" fill="#f8e1a3"/>
<rect x="166.09" y="260.68" width="18.05" height="7.93" fill="#f3ca8e"/>
<rect x="166.09" y="268.01" width="18.05" height="7.93" fill="#f2c68a"/>
<rect x="166.09" y="275.34" width="18.05" height="7.93" fill="#f8e1a3"/>
<rect x="166.09" y="282.67" width="18.05" height="7.93" fill="#f8e1a3"/>
<rect x="166.09" y="290.00" width="18.05" height="7.93" fill="#f4d295"/>
<rect x="166.09" y="297.33" width="18.05" height="7.93" fill="#f8e1a3"/>
<rect x="166.09" y="304.66" width="18.05" height="7.93" fill="#f6db9e"/>
<rect x="166.09" y="311.99" width="18.05" height="7.93" fill="#f3ca8e"/>
<rect x="166.09" y="319.32" width="18.05" height="7.93" fill="#f4d295"/>
<rect x="166.09" y="326.65" width="18.05" height="7.93" fill="#f2c68a"/>
<rect x="166.09" y="333.98" width="18.05" height="7.93" fill="#f1bf84"/>
<rect x="166.09" y="341.31" width="18.05" height="7.93" fill="#f2c68a"/>
<rect x="166.09" y="348.64" width="18.05" height="7.93" fill="#f6db9e"/>
<rect x="166.09" y="355.97" width="18.05" height="7.93" fill="#f8e1a3"/>
<rect x="166.09" y="363.30" width="18.05" height="7.93" fill="#f6db9e"/>
<rect x="166.09" y="370.63" width="18.05" height="7.93" fill="#f3ca8e"/>
<rect x="166.09" y="377.96" width="18.05" height="7.93" fill="#f5d699"/>
<rect x="166.09" y="385.29" width="18.05" height="7.93" fill="#f6db9e"/>
<rect x="166.09" y="392.62" width="18.05" height="7.93" fill="#f4ce92"/>
<rect x="166.09" y="399.95" width="18.05" height="7.93" fill="#f4ce92"/>
<rect x="166.09" y="407.28" width="18.05" height="7.93" fill="#f4ce92"/>
<rect x="166.09" y="414.61" width="18.05" height="7.93" fill="#f0b87e"/>
<rect x="166.09" y="421.94" width="18.05" height="7.93" fill="#f3ca8e"/>
<rect x="166.09" y="429.27" width="18.05" height="7.93" fill="#f0b87e"/>
<rect x="183.55" y="70.10" width="18.05" height="7.93" fill="#f4ce92"/>
<rect x="183.55" y="77.43" width="18.05" height="7.93" fill="#f4ce92"/>
<rect x="183.55" y="84.76" width="18.05" height="7.93" fill="#f4ce92"/>
<rect x="183.55" y="92.09" width="18.05" height="7.93" fill="#f2c68a"/>
<rect x="183.55" y="99.42" width="18.05" height="7.93" fill="#f4d295"/>
<rect x="183.55" y="106.75" width="18.05" height="7.93" fill="#f4ce92"/>
<rect x="183.55" y="114.08" width="18.05" height="7.93" fill="#f0b87e"/>
<rect x="183.55" y="121.41" width="18.05" height="7.93" fill="#f4d295"/>
<rect x="183.55" y="128.74" width="18.05" height="7.93" fill="#f4d295"/>
<rect x="183.55" y="136.07" width="18.05" height="7.93" fill="#f4ce92"/>
<rect x="183.55" y="143.40" width="18.05" height="7.93" fill="#f3ca8e"/>
<rect x="183.55" y="150.73" width="18.05" height="7.93" fill="#f5d699"/>
<rect x="183.55" y="158.06" width="18.05" height="7.93" fill="#f6db9e"/>
<rect x="183.55" y="165.39" width="18.05" height="7.93" fill="#f4d295"/>
<rect x="183.55" y="172.72" width="18.05" height="7.93" fill="#f4ce92"/>
<rect x="183.55" y="180.05" width="18.05" height="7.93" fill="#f5d699"/>
<rect x="183.55" y="187.38" width="18.05" height="7.93" fill="#f5d699"/>
<rect x="183.55" y="194.71" width="18.05" height="7.93" fill="#f3ca8e"/>
<rect x="183.55" y="202.04" width="18.05" height="7.93" fill="#f4d295"/>
<rect x="183.55" y="209.37" width="18.05" height="7.93" fill="#f5d699"/>
<rect x="183.55" y="216.70" width="18.05" height="7.93" fill="#f5d699"/>
<rect x="183.55" y="224.03" width="18.05" height="7.93" fill="#f5d699"/>
<rect x="183.55" y="231.36" width="18.05" height="7.93" fill="#f0b87e"/>
<rect x="183.55" y="238.69" width="18.05" height="7.93" fill="#f5d699"/>
<rect x="183.55" y="246.02" width="18.05" height="7.93" fill="#f4d295"/>
<rect x="183.55" y="253.35" width="18.05" height="7.93" fill="#f4ce92"/>
<rect x="183.55" y="260.68" width="18.05" height="7.93" fill="#f4d295"/>
<rect x="183.55" y="268.01" width="18.05" height="7.93" fill="#f4d295"/>
<rect x="183.55" y="275.34" width="18.05" height="7.93" fill="#f3ca8e"/>
<rect x="183.55" y="282.67" width="18.05" height="7.93" fill="#f0b87e"/>
<rect x="183.55" y="290.00" width="18.05" height="7.93" fill="#f4ce92"/>
<rect x="183.55" y="297.33" width="18.05" height="7.93" fill="#f5d699"/>
<rect x="183.55" y="304.66" width="18.05" height="7.93" fill="#f6db9e"/>
<rect x="183.55" y="311.99" width="18.05" height="7.93" fill="#f4d295"/>
<rect x="183.55" y="319.32" width="18.05" height="7.93" fill="#f4ce92"/>
<rect x="183.55" y="326.65" width="18.05" height="7.93" fill="#f0b87e"/>
<rect x="183.55" y="333.98" width="18.05" height="7.93" fill="#f3ca8e"/>
<rect x="183.55" y="341.31" width="18.05" height="7.93" fill="#f4ce92"/>
<rect x="183.55" y="348.64" width="18.05" height="7.93" fill="#f3ca8e"/>
<rect x="183.55" y="355.97" width="18.05" height="7.93" fill="#f1bf84"/>
<rect x="183.55" y="363.30" width="18.05" height="7.93" fill="#f4d295"/>
<rect x="183.55" y="370.63" width="18.05" height="7.93" fill="#f4ce92"/>
<rect x="183.55" y="377.96" width="18.05" height="7.93" fill="#f4d295"/>
<rect x="183.55" y="385.29" width="18.05" height="7.93" fill="#f5d699"/>
<rect x="183.55" y="392.62" width="18.05" height="7.93" fill="#eeb178"/>
<rect x="183.55" y="399.95" width="18.05" height="7.93" fill="#f4d295"/>
<rect x="183.55" y="407.28" width="18.05" height="7.93" fill="#f4d295"/>
<rect x="183.55" y="414.61" width="18.05" height="7.93" fill="#f4d295"/>
<rect x="183.55" y="421.94" width="18.05" height="7.93" fill="#f4ce92"/>
<rect x="183.55" y="429.27" width="18.05" height="7.93" fill="#f2c68a"/>
<rect x="201.00" y="70.10" width="18.05" height="7.93" fill="#f4d295"/>
<rect x="201.00" y="77.43" width="18.05" height="7.93" fill="#f5d699"/>
<rect x="201.00" y="84.76" width="18.05" height="7.93" fill="#f4ce92"/>
<rect x="201.00" y="92.09" width="18.05" height="7.93" fill="#f2c68a"/>
<rect x="201.00" y="99.42" width="18.05" height="7.93" fill="#f5d699"/>
<rect x="201.00" y="106.75" width="18.05" height="7.93" fill="#f6db9e"/>
<rect x="201.00" y="114.08" width="18.05" height="7.93" fill="#f4ce92"/>
<rect x="201.00" y="121.41" width="18.05" height="7.93" fill="#f5d699"/>
<rect x="201.00" y="128.74" width="18.05" height="7.93" fill="#f4d295"/>
<rect x="201.00" y="136.07" width="18.05" height="7.93" fill="#f4d295"/>
<rect x="201.00" y="143.40" width="18.05" height="7.93" fill="#f4ce92"/>
<rect x="201.00" y="150.73" width="18.05" height="7.93" fill="#f5d699"/>
<rect x="201.00" y="158.06" width="18.05" height="7.93" fill="#f8e1a3"/>
<rect x="201.00" y="165.39" width="18.05" height="7.93" fill="#f5d699"/>
<rect x="201.00" y="172.72" width="18.05" height="7.93" fill="#f4d295"/>
<rect x="201.00" y="180.05" width="18.05" height="7.93" fill="#f6db9e"/>
<rect x="201.00" y="187.38" width="18.05" height="7.93" fill="#f6db9e"/>
<rect x="201.00" y="194.71" width="18.05" height="7.93" fill="#f6db9e"/>
<rect x="201.00" y="202.04" width="18.05" height="7.93" fill="#f5d699"/>
<rect x="201.00" y="209.37" width="18.05" height="7.93" fill="#f6db9e"/>
<rect x="201.00" y="216.70" width="18.05" height="7.93" fill="#f6db9e"/>
<rect x="201.00" y="224.03" width="18.05" height="7.93" fill="#f4d295"/>
<rect x="201.00" y="231.36" width="18.05" height="7.93" fill="#f6db9e"/>
<rect x="201.00" y="238.69" width="18.05" height="7.93" fill="#f6db9e"/>
<rect x="201.00" y="246.02" width="18.05" height="7.93" fill="#f4ce92"/>
<rect x="201.00" y="253.35" width="18.05" height="7.93" fill="#f4d295"/>
<rect x="201.00" y="260.68" width="18.05" height="7.93" fill="#f4d295"/>
<rect x="201.00" y="268.01" width="18.05" height="7.93" fill="#f4d295"/>
<rect x="201.00" y="275.34" width="18.05" height="7.93" fill="#f4d295"/>
<rect x="201.00" y="282.67" width="18.05" height="7.93" fill="#f5d699"/>
<rect x="201.00" y="290.00" width="18.05" height="7.93" fill="#f6db9e"/>
<rect x="201.00" y="297.33" width="18.05" height="7.93" fill="#f4d295"/>
<rect x="201.00" y="304.66" width="18.05" height="7.93" fill="#f4d295"/>
<rect x="201.00" y="311.99" width="18.05" height="7.93" fill="#f6db9e"/>
<rect x="201.00" y="319.32" width="18.05" height="7.93" fill="#f6db9e"/>
<rect x="201.00" y="326.65" width="18.05" height="7.93" fill="#f4ce92"/>
<rect x="201.00" y="333.98" width="18.05" height="7.93" fill="#f4d295"/>
<rect x="201.00" y="341.31" width="18.05" height="7.93" fill="#f5d699"/>
<rect x="201.00" y="348.64" width="18.05" height="7.93" fill="#f4d295"/>
<rect x="201.00" y="355.97" width="18.05" height="7.93" fill="#f5d699"/>
<rect x="201.00" y="363.30" width="18.05" height="7.93" fill="#f4ce92"/>
<rect x="201.00" y="370.63" width="18.05" height="7.93" fill="#f2c68a"/>
<rect x="201.00" y="377.96" width="18.05" height="7.93" fill="#f6db9e"/>
<rect x="201.00" y="385.29" width="18.05" height="7.93" fill="#f6db9e"/>
<rect x="201.00" y="392.62" width="18.05" height="7.93" fill="#f4d295"/>
<rect x="201.00" y="399.95" width="18.05" height="7.93" fill="#f5d699"/>
<rect x="201.00" y="407.28" width="18.05" height="7.93" fill="#f4d295"/>
<rect x="201.00" y="414.61" width="18.05" height="7.93" fill="#f4ce92"/>
<rect x="201.00" y="421.94" width="18.05" height="7.93" fill="#f4d295"/>
<rect x="201.00" y="429.27" width="18.05" height="7.93" fill="#f4ce92"/>
<rect x="218.45" y="70.10" width="18.05" height="7.93" fill="#f8e1a3"/>
<rect x="218.45" y="77.43" width="18.05" height="7.93" fill="#faeaae"/>
<rect x="218.45" y="84.76" width="18.05" height="7.93" fill="#f9e6a8"/>
<rect x="218.45" y="92.09" width="18.05" height="7.93" fill="#f9e6a8"/>
<rect x="218.45" y="99.42" width="18.05" height="7.93" fill="#f9e6a8"/>
<rect x="218.45" y="106.75" width="18.05" height="7.93" fill="#f6db9e"/>
<rect x="218.45" y="114.08" width="18.05" height="7.93" fill="#f9e6a8"/>
<rect x="218.45" y="121.41" width="18.05" height="7.93" fill="#f8e1a3"/>
<rect x="218.45" y="128.74" width="18.05" height="7.93" fill="#f9e6a8"/>
<rect x="218.45" y="136.07" width="18.05" height="7.93" fill="#f7f7d8"/>
<rect x="218.45" y="143.40" width="18.05" height="7.93" fill="#faeaae"/>
<rect x="218.45" y="150.73" width="18.05" height="7.93" fill="#faeaae"/>
<rect x="218.45" y="158.06" width="18.05" height="7.93" fill="#faeaae"/>
<rect x="218.45" y="165.39" width="18.05" height="7.93" fill="#f9e6a8"/>
<rect x="218.45" y="172.72" width="18.05" height="7.93" fill="#fbefb4"/>
<rect x="218.45" y="180.05" width="18.05" height="7.93" fill="#f6db9e"/>
<rect x="218.45" y="187.38" width="18.05" height="7.93" fill="#f8e1a3"/>
<rect x="218.45" y="194.71" width="18.05" height="7.93" fill="#f9e6a8"/>
<rect x="218.45" y="202.04" width="18.05" height="7.93" fill="#faeaae"/>
<rect x="218.45" y="209.37" width="18.05" height="7.93" fill="#f9e6a8"/>
<rect x="218.45" y="216.70" width="18.05" height="7.93" fill="#f9e6a8"/>
<rect x="218.45" y="224.03" width="18.05" height="7.93" fill="#fbefb4"/>
<rect x="218.45" y="231.36" width="18.05" height="7.93" fill="#f9e6a8"/>
<rect x="218.45" y="238.69" width="18.05" height="7.93" fill="#f6db9e"/>
<rect x="218.45" y="246.02" width="18.05" height="7.93" fill="#f8e1a3"/>
<rect x="218.45" y="253.35" width="18.05" height="7.93" fill="#f9e6a8"/>
<rect x="218.45" y="260.68" width="18.05" height="7.93" fill="#f9e6a8"/>
<rect x="218.45" y="268.01" width="18.05" height="7.93" fill="#f9e6a8"/>
<rect x="218.45" y="275.34" width="18.05" height="7.93" fill="#f9e6a8"/>
<rect x="218.45" y="282.67" width="18.05" height="7.93" fill="#f8e1a3"/>
<rect x="218.45" y="290.00" width="18.05" height="7.93" fill="#f8e1a3"/>
<rect x="218.45" y="297.33" width="18.05" height="7.93" fill="#f4d295"/>
<rect x="218.45" y="304.66" width="18.05" height="7.93" fill="#f8e1a3"/>
<rect x="218.45" y="311.99" width="18.05" height="7.93" fill="#f9e6a8"/>
<rect x="218.45" y="319.32" width="18.05" height="7.93" fill="#fcf3ba"/>
<rect x="218.45" y="326.65" width="18.05" height="7.93" fill="#f6db9e"/>
<rect x="218.45" y="333.98" width="18.05" height="7.93" fill="#f8e1a3"/>
<rect x="218.45" y="341.31" width="18.05" height="7.93" fill="#f8e1a3"/>
<rect x="218.45" y="348.64" width="18.05" height="7.93" fill="#f8e1a3"/>
<rect x="218.45" y="355.97" width="18.05" height="7.93" fill="#f8e1a3"/>
<rect x="218.45" y="363.30" width="18.05" height="7.93" fill="#f9e6a8"/>
<rect x="218.45" y="370.63" width="18.05" height="7.93" fill="#f9e6a8"/>
<rect x="218.45" y="377.96" width="18.05" height="7.93" fill="#faeaae"/>
<rect x="218.45" y="385.29" width="18.05" height="7.93" fill="#f9e6a8"/>
<rect x="218.45" y="392.62" width="18.05" height="7.93" fill="#f9e6a8"/>
<rect x="218.45" y="399.95" width="18.05" height="7.93" fill="#faeaae"/>
<rect x="218.45" y="407.28" width="18.05" height="7.93" fill="#faeaae"/>
<rect x="218.45" y="414.61" width="18.05" height="7.93" fill="#f9e6a8"/>
<rect x="218.45" y="421.94" width="18.05" height="7.93" fill="#f9e6a8"/>
<rect x="218.45" y="429.27" width="18.05" height="7.93" fill="#faeaae"/>
<rect x="235.91" y="70.10" width="18.05" height="7.93" fill="#f8e1a3"/>
<rect x="235.91" y="77.43" width="18.05" height="7.93" fill="#f4d295"/>
<rect x="235.91" y="84.76" width="18.05" height="7.93" fill="#f5d699"/>
<rect x="235.91" y="92.09" width="18.05" height="7.93" fill="#f5d699"/>
<rect x="235.91" y="99.42" width="18.05" height="7.93" fill="#f4d295"/>
<rect x="235.91" y="106.75" width="18.05" height="7.93" fill="#f5d699"/>
<rect x="235.91" y="114.08" width="18.05" height="7.93" fill="#f8e1a3"/>
<rect x="235.91" y="121.41" width="18.05" height="7.93" fill="#f4d295"/>
<rect x="235.91" y="128.74" width="18.05" height="7.93" fill="#f8e1a3"/>
<rect x="235.91" y="136.07" width="18.05" height="7.93" fill="#f3ca8e"/>
<rect x="235.91" y="143.40" width="18.05" height="7.93" fill="#f5d699"/>
<rect x="235.91" y="150.73" width="18.05" height="7.93" fill="#f8e1a3"/>
<rect x="235.91" y="158.06" width="18.05" height="7.93" fill="#f8e1a3"/>
<rect x="235.91" y="165.39" width="18.05" height="7.93" fill="#f5d699"/>
<rect x="235.91" y="172.72" width="18.05" height="7.93" fill="#f8e1a3"/>
<rect x="235.91" y="180.05" width="18.05" height="7.93" fill="#f4d295"/>
<rect x="235.91" y="187.38" width="18.05" height="7.93" fill="#f6db9e"/>
<rect x="235.91" y="194.71" width="18.05" height="7.93" fill="#f8e1a3"/>
<rect x="235.91" y="202.04" width="18.05" height="7.93" fill="#f8e1a3"/>
<rect x="235.91" y="209.37" width="18.05" height="7.93" fill="#f8e1a3"/>
<rect x="235.91" y="216.70" width="18.05" height="7.93" fill="#f8e1a3"/>
<rect x="235.91" y="224.03" width="18.05" height="7.93" fill="#f5d699"/>
<rect x="235.91" y="231.36" width="18.05" height="7.93" fill="#f8e1a3"/>
<rect x="235.91" y="238.69" width="18.05" height="7.93" fill="#f3ca8e"/>
<rect x="235.91" y="246.02" width="18.05" height="7.93" fill="#f4d295"/>
<rect x="235.91" y="253.35" width="18.05" height="7.93" fill="#f5d699"/>
<rect x="235.91" y="260.68" width="18.05" height="7.93" fill="#f8e1a3"/>
<rect x="235.91" y="268.01" width="18.05" height="7.93" fill="#f8e1a3"/>
<rect x="235.91" y="275.34" width="18.05" height="7.93" fill="#f8e1a3"/>
<rect x="235.91" y="282.67" width="18.05" height="7.93" fill="#f8e1a3"/>
<rect x="235.91" y="290.00" width="18.05" height="7.93" fill="#f6db9e"/>
<rect x="235.91" y="297.33" width="18.05" height="7.93" fill="#f8e1a3"/>
<rect x="235.91" y="304.66" width="18.05" height="7.93" fill="#f6db9e"/>
<rect x="235.91" y="311.99" width="18.05" height="7.93" fill="#f8e1a3"/>
<rect x="235.91" y="319.32" width="18.05" height="7.93" fill="#f6db9e"/>
<rect x="235.91" y="326.65" width="18.05" height="7.93" fill="#f8e1a3"/>
<rect x="235.91" y="333.98" width="18.05" height="7.93" fill="#f5d699"/>
<rect x="235.91" y="341.31" width="18.05" height="7.93" fill="#f4d295"/>
<rect x="235.91" y="348.64" width="18.05" height="7.93" fill="#f4d295"/>
<rect x="235.91" y="355.97" width="18.05" height="7.93" fill="#f5d699"/>
<rect x="235.91" y="363.30" width="18.05" height="7.93" fill="#f4d295"/>
<rect x="235.91" y="370.63" width="18.05" height="7.93" fill="#f6db9e"/>
<rect x="235.91" y="377.96" width="18.05" height="7.93" fill="#f3ca8e"/>
<rect x="235.91" y="385.29" width="18.05" height="7.93" fill="#f3ca8e"/>
<rect x="235.91" y="392.62" width="18.05" height="7.93" fill="#f4d295"/>
<rect x="235.91" y="399.95" width="18.05" height="7.93" fill="#f6db9e"/>
<rect x="235.91" y="407.28" width="18.05" height="7.93" fill="#f4ce92"/>
<rect x="235.91" y="414.61" width="18.05" height="7.93" fill="#f4d295"/>
<rect x="235.91" y="421.94" width="18.05" height="7.93" fill="#f8e1a3"/>
<rect x="235.91" y="429.27" width="18.05" height="7.93" fill="#f8e1a3"/>
<rect x="253.36" y="70.10" width="18.05" height="7.93" fill="#f9e6a8"/>
<rect x="253.36" y="77.43" width="18.05" height="7.93" fill="#f8e1a3"/>
<rect x="253.36" y="84.76" width="18.05" height="7.93" fill="#f6db9e"/>
<rect x="253.36" y="92.09" width="18.05" height="7.93" fill="#f5d699"/>
<rect x="253.36" y="99.42" width="18.05" height="7.93" fill="#f5d699"/>
<rect x="253.36" y="106.75" width="18.05" height="7.93" fill="#faeaae"/>
<rect x="253.36" y="114.08" width="18.05" height="7.93" fill="#faeaae"/>
<rect x="253.36" y="121.41" width="18.05" height="7.93" fill="#f9e6a8"/>
<rect x="253.36" y="128.74" width="18.05" height="7.93" fill="#f9e6a8"/>
<rect x="253.36" y="136.07" width="18.05" height="7.93" fill="#f8e1a3"/>
<rect x="253.36" y="143.40" width="18.05" height="7.93" fill="#faeaae"/>
<rect x="253.36" y="150.73" width="18.05" height="7.93" fill="#faeaae"/>
<rect x="253.36" y="158.06" width="18.05" height="7.93" fill="#faeaae"/>
<rect x="253.36" y="165.39" width="18.05" height="7.93" fill="#f5d699"/>
<rect x="253.36" y="172.72" width="18.05" height="7.93" fill="#faeaae"/>
<rect x="253.36" y="180.05" width="18.05" height="7.93" fill="#fbefb4"/>
<rect x="253.36" y="187.38" width="18.05" height="7.93" fill="#faeaae"/>
<rect x="253.36" y="194.71" width="18.05" height="7.93" fill="#faeaae"/>
<rect x="253.36" y="202.04" width="18.05" height="7.93" fill="#f4d295"/>
<rect x="253.36" y="209.37" width="18.05" height="7.93" fill="#f9e6a8"/>
<rect x="253.36" y="216.70" width="18.05" height="7.93" fill="#f6db9e"/>
<rect x="253.36" y="224.03" width="18.05" height="7.93" fill="#f8e1a3"/>
<rect x="253.36" y="231.36" width="18.05" height="7.93" fill="#f9e6a8"/>
<rect x="253.36" y="238.69" width="18.05" height="7.93" fill="#f6db9e"/>
<rect x="253.36" y="246.02" width="18.05" height="7.93" fill="#f4ce92"/>
<rect x="253.36" y="253.35" width="18.05" height="7.93" fill="#f9e6a8"/>
<rect x="253.36" y="260.68" width="18.05" height="7.93" fill="#f9e6a8"/>
<rect x="253.36" y="268.01" width="18.05" height="7.93" fill="#f6db9e"/>
<rect x="253.36" y="275.34" width="18.05" height="7.93" fill="#f8e1a3"/>
<rect x="253.36" y="282.67" width="18.05" height="7.93" fill="#f8e1a3"/>
<rect x="253.36" y="290.00" width="18.05" height="7.93" fill="#f5d699"/>
<rect x="253.36" y="297.33" width="18.05" height="7.93" fill="#f5d699"/>
<rect x="253.36" y="304.66" width="18.05" height="7.93" fill="#f6db9e"/>
<rect x="253.36" y="311.99" width="18.05" height="7.93" fill="#f6db9e"/>
<rect x="253.36" y="319.32" width="18.05" height="7.93" fill="#f6db9e"/>
<rect x="253.36" y="326.65" width="18.05" height="7.93" fill="#f9e6a8"/>
<rect x="253.36" y="333.98" width="18.05" height="7.93" fill="#f8e1a3"/>
<rect x="253.36" y="341.31" width="18.05" height="7.93" fill="#f5d699"/>
<rect x="253.36" y="348.64" width="18.05" height="7.93" fill="#f8e1a3"/>
<rect x="253.36" y="355.97" width="18.05" height="7.93" fill="#faeaae"/>
<rect x="253.36" y="363.30" width="18.05" height="7.93" fill="#f5d699"/>
<rect x="253.36" y="370.63" width="18.05" height="7.93" fill="#f8e1a3"/>
<rect x="253.36" y="377.96" width="18.05" height="7.93" fill="#f4d295"/>
<rect x="253.36" y="385.29" width="18.05" height="7.93" fill="#f5d699"/>
<rect x="253.36" y="392.62" width="18.05" height="7.93" fill="#f9e6a8"/>
<rect x="253.36" y="399.95" width="18.05" height="7.93" fill="#f9e6a8"/>
<rect x="253.36" y="407.28" width="18.05" height="7.93" fill="#f5d699"/>
<rect x="253.36" y="414.61" width="18.05" height="7.93" fill="#f9e6a8"/>
<rect x="253.36" y="421.94" width="18.05" height="7.93" fill="#f9e6a8"/>
<rect x="253.36" y="429.27" width="18.05" height="7.93" fill="#f8e1a3"/>
<rect x="270.82" y="70.10" width="18.05" height="7.93" fill="#f9e6a8"/>
<rect x="270.82" y="77.43" width="18.05" height="7.93" fill="#f9e6a8"/>
<rect x="270.82" y="84.76" width="18.05" height="7.93" fill="#f9e6a8"/>
<rect x="270.82" y="92.09" width="18.05" height="7.93" fill="#f9e6a8"/>
<rect x="270.82" y="99.42" width="18.05" height="7.93" fill="#f9e6a8"/>
<rect x="270.82" y="106.75" width="18.05" height="7.93" fill="#faeaae"/>
<rect x="270.82" y="114.08" width="18.05" height="7.93" fill="#faeaae"/>
<rect x="270.82" y="121.41" width="18.05" height="7.93" fill="#faeaae"/>
<rect x="270.82" y="128.74" width="18.05" height="7.93" fill="#f9e6a8"/>
<rect x="270.82" y="136.07" width="18.05" height="7.93" fill="#f9e6a8"/>
<rect x="270.82" y="143.40" width="18.05" height="7.93" fill="#fbefb4"/>
<rect x="270.82" y="150.73" width="18.05" height="7.93" fill="#fcf3ba"/>
<rect x="270.82" y="158.06" width="18.05" height="7.93" fill="#fcf3ba"/>
<rect x="270.82" y="165.39" width="18.05" height="7.93" fill="#fcf3ba"/>
<rect x="270.82" y="172.72" width="18.05" height="7.93" fill="#fbefb4"/>
<rect x="270.82" y="180.05" width="18.05" height="7.93" fill="#faeaae"/>
<rect x="270.82" y="187.38" width="18.05" height="7.93" fill="#fbefb4"/>
<rect x="270.82" y="194.71" width="18.05" height="7.93" fill="#fcf3ba"/>
<rect x="270.82" y="202.04" width="18.05" height="7.93" fill="#fcf3ba"/>
<rect x="270.82" y="209.37" width="18.05" height="7.93" fill="#fbefb4"/>
<rect x="270.82" y="216.70" width="18.05" height="7.93" fill="#f9e6a8"/>
<rect x="270.82" y="224.03" width="18.05" height="7.93" fill="#faeaae"/>
<rect x="270.82" y="231.36" width="18.05" height="7.93" fill="#faeaae"/>
<rect x="270.82" y="238.69" width="18.05" height="7.93" fill="#faeaae"/>
<rect x="270.82" y="246.02" width="18.05" height="7.93" fill="#faeaae"/>
<rect x="270.82" y="253.35" width="18.05" height="7.93" fill="#f6db9e"/>
<rect x="270.82" y="260.68" width="18.05" height="7.93" fill="#faeaae"/>
<rect x="270.82" y="268.01" width="18.05" height="7.93" fill="#faeaae"/>
<rect x="270.82" y="275.34" width="18.05" height="7.93" fill="#faeaae"/>
<rect x="270.82" y="282.67" width="18.05" height="7.93" fill="#faeaae"/>
<rect x="270.82" y="290.00" width="18.05" height="7.93" fill="#faeaae"/>
<rect x="270.82" y="297.33" width="18.05" height="7.93" fill="#faeaae"/>
<rect x="270.82" y="304.66" width="18.05" height="7.93" fill="#faeaae"/>
<rect x="270.82" y="311.99" width="18.05" height="7.93" fill="#faeaae"/>
<rect x="270.82" y="319.32" width="18.05" height="7.93" fill="#f8e1a3"/>
<rect x="270.82" y="326.65" width="18.05" height="7.93" fill="#faeaae"/>
<rect x="270.82" y="333.98" width="18.05" height="7.93" fill="#fbefb4"/>
<rect x="270.82" y="341.31" width="18.05" height="7.93" fill="#fbefb4"/>
<rect x="270.82" y="348.64" width="18.05" height="7.93" fill="#fbefb4"/>
<rect x="270.82" y="355.97" width="18.05" height="7.93" fill="#fbefb4"/>
<rect x="270.82" y="363.30" width="18.05" height="7.93" fill="#faeaae"/>
<rect x="270.82" y="370.63" width="18.05" height="7.93" fill="#faeaae"/>
<rect x="270.82" y="377.96" width="18.05" height="7.93" fill="#f6db9e"/>
<rect x="270.82" y="385.29" width="18.05" height="7.93" fill="#faeaae"/>
<rect x="270.82" y="392.62" width="18.05" height="7.93" fill="#faeaae"/>
<rect x="270.82" y="399.95" width="18.05" height="7.93" fill="#faeaae"/>
<rect x="270.82" y="407.28" width="18.05" height="7.93" fill="#faeaae"/>
<rect x="270.82" y="414.61" width="18.05" height="7.93" fill="#faeaae"/>
<rect x="270.82" y="421.94" width="18.05" height="7.93" fill="#fbefb4"/>
<rect x="270.82" y="429.27" width="18.05" height="7.93" fill="#faeaae"/>
<rect x="288.27" y="70.10" width="18.05" height="7.93" fill="#fcf3ba"/>
<rect x="288.27" y="77.43" width="18.05" height="7.93" fill="#fcf3ba"/>
<rect x="288.27" y="84.76" width="18.05" height="7.93" fill="#faeaae"/>
<rect x="288.27" y="92.09" width="18.05" height="7.93" fill="#fcf3ba"/>
<rect x="288.27" y="99.42" width="18.05" height="7.93" fill="#fcf3ba"/>
<rect x="288.27" y="106.75" width="18.05" height="7.93" fill="#fcf3ba"/>
<rect x="288.27" y="114.08" width="18.05" height="7.93" fill="#fcf3ba"/>
<rect x="288.27" y="121.41" width="18.05" height="7.93" fill="#fbefb4"/>
<rect x="288.27" y="128.74" width="18.05" height="7.93" fill="#fcf3ba"/>
<rect x="288.27" y="136.07" width="18.05" height="7.93" fill="#faeaae"/>
<rect x="288.27" y="143.40" width="18.05" height="7.93" fill="#faeaae"/>
<rect x="288.27" y="150.73" width="18.05" height="7.93" fill="#fcf3ba"/>
<rect x="288.27" y="158.06" width="18.05" height="7.93" fill="#fcf3ba"/>
<rect x="288.27" y="165.39" width="18.05" height="7.93" fill="#fcf3ba"/>
<rect x="288.27" y="172.72" width="18.05" height="7.93" fill="#fcf3ba"/>
<rect x="288.27" y="180.05" width="18.05" height="7.93" fill="#fcf3ba"/>
<rect x="288.27" y="187.38" width="18.05" height="7.93" fill="#fcf3ba"/>
<rect x="288.27" y="194.71" width="18.05" height="7.93" fill="#faf4c4"/>
<rect x="288.27" y="202.04" width="18.05" height="7.93" fill="#fcf3ba"/>
<rect x="288.27" y="209.37" width="18.05" height="7.93" fill="#fcf3ba"/>
<rect x="288.27" y="216.70" width="18.05" height="7.93" fill="#fcf3ba"/>
<rect x="288.27" y="224.03" width="18.05" height="7.93" fill="#fcf3ba"/>
<rect x="288.27" y="231.36" width="18.05" height="7.93" fill="#fbefb4"/>
<rect x="288.27" y="238.69" width="18.05" height="7.93" fill="#fbefb4"/>
<rect x="288.27" y="246.02" width="18.05" height="7.93" fill="#fbefb4"/>
<rect x="288.27" y="253.35" width="18.05" height="7.93" fill="#f9f6ce"/>
<rect x="288.27" y="260.68" width="18.05" height="7.93" fill="#fcf3ba"/>
<rect x="288.27" y="268.01" width="18.05" height="7.93" fill="#fcf3ba"/>
<rect x="288.27" y="275.34" width="18.05" height="7.93" fill="#fcf3ba"/>
<rect x="288.27" y="282.67" width="18.05" height="7.93" fill="#fcf3ba"/>
<rect x="288.27" y="290.00" width="18.05" height="7.93" fill="#fcf3ba"/>
<rect x="288.27" y="297.33" width="18.05" height="7.93" fill="#fbefb4"/>
<rect x="288.27" y="304.66" width="18.05" height="7.93" fill="#fbefb4"/>
<rect x="288.27" y="311.99" width="18.05" height="7.93" fill="#fcf3ba"/>
<rect x="288.27" y="319.32" width="18.05" height="7.93" fill="#fcf3ba"/>
<rect x="288.27" y="326.65" width="18.05" height="7.93" fill="#fcf3ba"/>
<rect x="288.27" y="333.98" width="18.05" height="7.93" fill="#faf4c4"/>
<rect x="288.27" y="341.31" width="18.05" height="7.93" fill="#faf4c4"/>
<rect x="288.27" y="348.64" width="18.05" height="7.93" fill="#faf4c4"/>
<rect x="288.27" y="355.97" width="18.05" height="7.93" fill="#faf4c4"/>
<rect x="288.27" y="363.30" width="18.05" height="7.93" fill="#fcf3ba"/>
<rect x="288.27" y="370.63" width="18.05" height="7.93" fill="#fcf3ba"/>
<rect x="288.27" y="377.96" width="18.05" height="7.93" fill="#fcf3ba"/>
<rect x="288.27" y="385.29" width="18.05" height="7.93" fill="#faf4c4"/>
<rect x="288.27" y="392.62" width="18.05" height="7.93" fill="#faf4c4"/>
<rect x="288.27" y="399.95" width="18.05" height="7.93" fill="#fcf3ba"/>
<rect x="288.27" y="407.28" width="18.05" height="7.93" fill="#faf4c4"/>
<rect x="288.27" y="414.61" width="18.05" height="7.93" fill="#faf4c4"/>
<rect x="288.27" y="421.94" width="18.05" height="7.93" fill="#fcf3ba"/>
<rect x="288.27" y="429.27" width="18.05" height="7.93" fill="#faf4c4"/>
<rect x="305.73" y="70.10" width="18.05" height="7.93" fill="#faf4c4"/>
<rect x="305.73" y="77.43" width="18.05" height="7.93" fill="#faf4c4"/>
<rect x="305.73" y="84.76" width="18.05" height="7.93" fill="#faf4c4"/>
<rect x="305.73" y="92.09" width="18.05" height="7.93" fill="#fcf3ba"/>
<rect x="305.73" y="99.42" width="18.05" height="7.93" fill="#fcf3ba"/>
<rect x="305.73" y="106.75" width="18.05" height="7.93" fill="#f9e6a8"/>
<rect x="305.73" y="114.08" width="18.05" height="7.93" fill="#fcf3ba"/>
<rect x="305.73" y="121.41" width="18.05" height="7.93" fill="#fcf3ba"/>
<rect x="305.73" y="128.74" width="18.05" height="7.93" fill="#fcf3ba"/>
<rect x="305.73" y="136.07" width="18.05" height="7.93" fill="#fbefb4"/>
<rect x="305.73" y="143.40" width="18.05" height="7.93" fill="#f9f6ce"/>
<rect x="305.73" y="150.73" width="18.05" height="7.93" fill="#f7f7d8"/>
<rect x="305.73" y="158.06" width="18.05" height="7.93" fill="#fbefb4"/>
<rect x="305.73" y="165.39" width="18.05" height="7.93" fill="#f9f6ce"/>
<rect x="305.73" y="172.72" width="18.05" height="7.93" fill="#fcf3ba"/>
<rect x="305.73" y="180.05" width="18.05" height="7.93" fill="#faf4c4"/>
<rect x="305.73" y="187.38" width="18.05" height="7.93" fill="#fcf3ba"/>
<rect x="305.73" y="194.71" width="18.05" height="7.93" fill="#f7f7d8"/>
<rect x="305.73" y="202.04" width="18.05" height="7.93" fill="#faf4c4"/>
<rect x="305.73" y="209.37" width="18.05" height="7.93" fill="#fcf3ba"/>
<rect x="305.73" y="216.70" width="18.05" height="7.93" fill="#fcf3ba"/>
<rect x="305.73" y="224.03" width="18.05" height="7.93" fill="#f9f6ce"/>
<rect x="305.73" y="231.36" width="18.05" height="7.93" fill="#fbefb4"/>
<rect x="305.73" y="238.69" width="18.05" height="7.93" fill="#faeaae"/>
<rect x="305.73" y="246.02" width="18.05" height="7.93" fill="#fcf3ba"/>
<rect x="305.73" y="253.35" width="18.05" height="7.93" fill="#f7f7d8"/>
<rect x="305.73" y="260.68" width="18.05" height="7.93" fill="#f9f6ce"/>
<rect x="305.73" y="268.01" width="18.05" height="7.93" fill="#faf4c4"/>
<rect x="305.73" y="275.34" width="18.05" height="7.93" fill="#f9f6ce"/>
<rect x="305.73" y="282.67" width="18.05" height="7.93" fill="#f9f6ce"/>
<rect x="305.73" y="290.00" width="18.05" height="7.93" fill="#faf4c4"/>
<rect x="305.73" y="297.33" width="18.05" height="7.93" fill="#f9f6ce"/>
<rect x="305.73" y="304.66" width="18.05" height="7.93" fill="#faf4c4"/>
<rect x="305.73" y="311.99" width="18.05" height="7.93" fill="#faf4c4"/>
<rect x="305.73" y="319.32" width="18.05" height="7.93" fill="#faeaae"/>
<rect x="305.73" y="326.65" width="18.05" height="7.93" fill="#faf4c4"/>
<rect x="305.73" y="333.98" width="18.05" height="7.93" fill="#faf4c4"/>
<rect x="305.73" y="341.31" width="18.05" height="7.93" fill="#faf4c4"/>
<rect x="305.73" y="348.64" width="18.05" height="7.93" fill="#f9f6ce"/>
<rect x="305.73" y="355.97" width="18.05" height="7.93" fill="#f9f6ce"/>
<rect x="305.73" y="363.30" width="18.05" height="7.93" fill="#faf4c4"/>
<rect x="305.73" y="370.63" width="18.05" height="7.93" fill="#faf4c4"/>
<rect x="305.73" y="377.96" width="18.05" height="7.93" fill="#fcf3ba"/>
<rect x="305.73" y="385.29" width="18.05" height="7.93" fill="#faeaae"/>
<rect x="305.73" y="392.62" width="18.05" height="7.93" fill="#fcf3ba"/>
<rect x="305.73" y="399.95" width="18.05" height="7.93" fill="#fbefb4"/>
<rect x="305.73" y="407.28" width="18.05" height="7.93" fill="#faf4c4"/>
<rect x="305.73" y="414.61" width="18.05" height="7.93" fill="#faf4c4"/>
<rect x="305.73" y="421.94" width="18.05" height="7.93" fill="#faf4c4"/>
<rect x="305.73" y="429.27" width="18.05" height="7.93" fill="#f9f6ce"/>
<rect x="323.18" y="70.10" width="18.05" height="7.93" fill="#fcf3ba"/>
<rect x="323.18" y="77.43" width="18.05" height="7.93" fill="#fcf3ba"/>
<rect x="323.18" y="84.76" width="18.05" height="7.93" fill="#fcf3ba"/>
<rect x="323.18" y="92.09" width="18.05" height="7.93" fill="#fcf3ba"/>
<rect x="323.18" y="99.42" width="18.05" height="7.93" fill="#fcf3ba"/>
<rect x="323.18" y="106.75" width="18.05" height="7.93" fill="#faeaae"/>
<rect x="323.18" y="114.08" width="18.05" height="7.93" fill="#fbefb4"/>
<rect x="323.18" y="121.41" width="18.05" height="7.93" fill="#fcf3ba"/>
<rect x="323.18" y="128.74" width="18.05" height="7.93" fill="#fcf3ba"/>
<rect x="323.18" y="136.07" width="18.05" height="7.93" fill="#faf4c4"/>
<rect x="323.18" y="143.40" width="18.05" height="7.93" fill="#fcf3ba"/>
<rect x="323.18" y="150.73" width="18.05" height="7.93" fill="#fcf3ba"/>
<rect x="323.18" y="158.06" width="18.05" height="7.93" fill="#faf4c4"/>
<rect x="323.18" y="165.39" width="18.05" height="7.93" fill="#faf4c4"/>
<rect x="323.18" y="172.72" width="18.05" height="7.93" fill="#fcf3ba"/>
<rect x="323.18" y="180.05" width="18.05" height="7.93" fill="#fcf3ba"/>
<rect x="323.18" y="187.38" width="18.05" height="7.93" fill="#fcf3ba"/>
<rect x="323.18" y="194.71" width="18.05" height="7.93" fill="#fcf3ba"/>
<rect x="323.18" y="202.04" width="18.05" height="7.93" fill="#faf4c4"/>
<rect x="323.18" y="209.37" width="18.05" height="7.93" fill="#faf4c4"/>
<rect x="323.18" y="216.70" width="18.05" height="7.93" fill="#fcf3ba"/>
<rect x="323.18" y="224.03" width="18.05" height="7.93" fill="#faf4c4"/>
<rect x="323.18" y="231.36" width="18.05" height="7.93" fill="#faeaae"/>
<rect x="323.18" y="238.69" width="18.05" height="7.93" fill="#faf4c4"/>
<rect x="323.18" y="246.02" width="18.05" height="7.93" fill="#faf4c4"/>
<rect x="323.18" y="253.35" width="18.05" height="7.93" fill="#fbefb4"/>
<rect x="323.18" y="260.68" width="18.05" height="7.93" fill="#faf4c4"/>
<rect x="323.18" y="268.01" width="18.05" height="7.93" fill="#faf4c4"/>
<rect x="323.18" y="275.34" width="18.05" height="7.93" fill="#faf4c4"/>
<rect x="323.18" y="282.67" width="18.05" height="7.93" fill="#faf4c4"/>
<rect x="323.18" y="290.00" width="18.05" height="7.93" fill="#fcf3ba"/>
<rect x="323.18" y="297.33" width="18.05" height="7.93" fill="#faf4c4"/>
<rect x="323.18" y="304.66" width="18.05" height="7.93" fill="#faf4c4"/>
<rect x="323.18" y="311.99" width="18.05" height="7.93" fill="#faf4c4"/>
<rect x="323.18" y="319.32" width="18.05" height="7.93" fill="#f9f6ce"/>
<rect x="323.18" y="326.65" width="18.05" height="7.93" fill="#faf4c4"/>
<rect x="323.18" y="333.98" width="18.05" height="7.93" fill="#faf4c4"/>
<rect x="323.18" y="341.31" width="18.05" height="7.93" fill="#fcf3ba"/>
<rect x="323.18" y="348.64" width="18.05" height="7.93" fill="#faf4c4"/>
<rect x="323.18" y="355.97" width="18.05" height="7.93" fill="#faf4c4"/>
<rect x="323.18" y="363.30" width="18.05" height="7.93" fill="#faf4c4"/>
<rect x="323.18" y="370.63" width="18.05" height="7.93" fill="#faf4c4"/>
<rect x="323.18" y="377.96" width="18.05" height="7.93" fill="#faf4c4"/>
<rect x="323.18" y="385.29" width="18.05" height="7.93" fill="#faf4c4"/>
<rect x="323.18" y="392.62" width="18.05" height="7.93" fill="#faf4c4"/>
<rect x="323.18" y="399.95" width="18.05" height="7.93" fill="#fcf3ba"/>
<rect x="323.18" y="407.28" width="18.05" height="7.93" fill="#f9f6ce"/>
<rect x="323.18" y="414.61" width="18.05" height="7.93" fill="#faf4c4"/>
<rect x="323.18" y="421.94" width="18.05" height="7.93" fill="#faf4c4"/>
<rect x="323.18" y="429.27" width="18.05" height="7.93" fill="#faf4c4"/>
<rect x="340.64" y="70.10" width="18.05" height="7.93" fill="#faeaae"/>
<rect x="340.64" y="77.43" width="18.05" height="7.93" fill="#faeaae"/>
<rect x="340.64" y="84.76" width="18.05" height="7.93" fill="#fbefb4"/>
<rect x="340.64" y="92.09" width="18.05" height="7.93" fill="#fbefb4"/>
<rect x="340.64" y="99.42" width="18.05" height="7.93" fill="#fbefb4"/>
<rect x="340.64" y="106.75" width="18.05" height="7.93" fill="#f9e6a8"/>
<rect x="340.64" y="114.08" width="18.05" height="7.93" fill="#f9e6a8"/>
<rect x="340.64" y="121.41" width="18.05" height="7.93" fill="#fbefb4"/>
<rect x="340.64" y="128.74" width="18.05" height="7.93" fill="#fbefb4"/>
<rect x="340.64" y="136.07" width="18.05" height="7.93" fill="#faf4c4"/>
<rect x="340.64" y="143.40" width="18.05" height="7.93" fill="#fcf3ba"/>
<rect x="340.64" y="150.73" width="18.05" height="7.93" fill="#faf4c4"/>
<rect x="340.64" y="158.06" width="18.05" height="7.93" fill="#faeaae"/>
<rect x="340.64" y="165.39" width="18.05" height="7.93" fill="#faeaae"/>
<rect x="340.64" y="172.72" width="18.05" height="7.93" fill="#faeaae"/>
<rect x="340.64" y="180.05" width="18.05" height="7.93" fill="#faeaae"/>
<rect x="340.64" y="187.38" width="18.05" height="7.93" fill="#faeaae"/>
<rect x="340.64" y="194.71" width="18.05" height="7.93" fill="#fbefb4"/>
<rect x="340.64" y="202.04" width="18.05" height="7.93" fill="#fcf3ba"/>
<rect x="340.64" y="209.37" width="18.05" height="7.93" fill="#faf4c4"/>
<rect x="340.64" y="216.70" width="18.05" height="7.93" fill="#faf4c4"/>
<rect x="340.64" y="224.03" width="18.05" height="7.93" fill="#fbefb4"/>
<rect x="340.64" y="231.36" width="18.05" height="7.93" fill="#f9e6a8"/>
<rect x="340.64" y="238.69" width="18.05" height="7.93" fill="#fcf3ba"/>
<rect x="340.64" y="246.02" width="18.05" height="7.93" fill="#fcf3ba"/>
<rect x="340.64" y="253.35" width="18.05" height="7.93" fill="#f9e6a8"/>
<rect x="340.64" y="260.68" width="18.05" height="7.93" fill="#fbefb4"/>
<rect x="340.64" y="268.01" width="18.05" height="7.93" fill="#fcf3ba"/>
<rect x="340.64" y="275.34" width="18.05" height="7.93" fill="#fcf3ba"/>
<rect x="340.64" y="282.67" width="18.05" height="7.93" fill="#fcf3ba"/>
<rect x="340.64" y="290.00" width="18.05" height="7.93" fill="#faeaae"/>
<rect x="340.64" y="297.33" width="18.05" height="7.93" fill="#fbefb4"/>
<rect x="340.64" y="304.66" width="18.05" height="7.93" fill="#fbefb4"/>
<rect x="340.64" y="311.99" width="18.05" height="7.93" fill="#faeaae"/>
<rect x="340.64" y="319.32" width="18.05" height="7.93" fill="#faeaae"/>
<rect x="340.64" y="326.65" width="18.05" height="7.93" fill="#faeaae"/>
<rect x="340.64" y="333.98" width="18.05" height="7.93" fill="#faeaae"/>
<rect x="340.64" y="341.31" width="18.05" height="7.93" fill="#faeaae"/>
<rect x="340.64" y="348.64" width="18.05" height="7.93" fill="#fbefb4"/>
<rect x="340.64" y="355.97" width="18.05" height="7.93" fill="#fbefb4"/>
<rect x="340.64" y="363.30" width="18.05" height="7.93" fill="#fbefb4"/>
<rect x="340.64" y="370.63" width="18.05" height="7.93" fill="#fbefb4"/>
<rect x="340.64" y="377.96" width="18.05" height="7.93" fill="#fbefb4"/>
<rect x="340.64" y="385.29" width="18.05" height="7.93" fill="#fbefb4"/>
<rect x="340.64" y="392.62" width="18.05" height="7.93" fill="#f9e6a8"/>
<rect x="340.64" y="399.95" width="18.05" height="7.93" fill="#fcf3ba"/>
<rect x="340.64" y="407.28" width="18.05" height="7.93" fill="#fcf3ba"/>
<rect x="340.64" y="414.61" width="18.05" height="7.93" fill="#faeaae"/>
<rect x="340.64" y="421.94" width="18.05" height="7.93" fill="#fcf3ba"/>
<rect x="340.64" y="429.27" width="18.05" height="7.93" fill="#fcf3ba"/>
<rect x="358.09" y="70.10" width="18.05" height="7.93" fill="#faf4c4"/>
<rect x="358.09" y="77.43" width="18.05" height="7.93" fill="#faf4c4"/>
<rect x="358.09" y="84.76" width="18.05" height="7.93" fill="#faf4c4"/>
<rect x="358.09" y="92.09" width="18.05" height="7.93" fill="#faf4c4"/>
<rect x="358.09" y="99.42" width="18.05" height="7.93" fill="#faf4c4"/>
<rect x="358.09" y="106.75" width="18.05" height="7.93" fill="#f4f6df"/>
<rect x="358.09" y="114.08" width="18.05" height="7.93" fill="#f4f6df"/>
<rect x="358.09" y="121.41" width="18.05" height="7.93" fill="#f4f6df"/>
<rect x="358.09" y="128.74" width="18.05" height="7.93" fill="#f4f6df"/>
<rect x="358.09" y="136.07" width="18.05" height="7.93" fill="#eaf2f0"/>
<rect x="358.09" y="143.40" width="18.05" height="7.93" fill="#e7eff3"/>
<rect x="358.09" y="150.73" width="18.05" height="7.93" fill="#eaf2f0"/>
<rect x="358.09" y="158.06" width="18.05" height="7.93" fill="#f4f6df"/>
<rect x="358.09" y="165.39" width="18.05" height="7.93" fill="#fcf3ba"/>
<rect x="358.09" y="172.72" width="18.05" height="7.93" fill="#eef4ee"/>
<rect x="358.09" y="180.05" width="18.05" height="7.93" fill="#f6db9e"/>
<rect x="358.09" y="187.38" width="18.05" height="7.93" fill="#f1f5e7"/>
<rect x="358.09" y="194.71" width="18.05" height="7.93" fill="#eef4ee"/>
<rect x="358.09" y="202.04" width="18.05" height="7.93" fill="#f1f5e7"/>
<rect x="358.09" y="209.37" width="18.05" height="7.93" fill="#f4f6df"/>
<rect x="358.09" y="216.70" width="18.05" height="7.93" fill="#f9f6ce"/>
<rect x="358.09" y="224.03" width="18.05" height="7.93" fill="#f4f6df"/>
<rect x="358.09" y="231.36" width="18.05" height="7.93" fill="#f7f7d8"/>
<rect x="358.09" y="238.69" width="18.05" height="7.93" fill="#faeaae"/>
<rect x="358.09" y="246.02" width="18.05" height="7.93" fill="#f7f7d8"/>
<rect x="358.09" y="253.35" width="18.05" height="7.93" fill="#f1f5e7"/>
<rect x="358.09" y="260.68" width="18.05" height="7.93" fill="#f1f5e7"/>
<rect x="358.09" y="268.01" width="18.05" height="7.93" fill="#f4f6df"/>
<rect x="358.09" y="275.34" width="18.05" height="7.93" fill="#f7f7d8"/>
<rect x="358.09" y="282.67" width="18.05" height="7.93" fill="#f7f7d8"/>
<rect x="358.09" y="290.00" width="18.05" height="7.93" fill="#f9f6ce"/>
<rect x="358.09" y="297.33" width="18.05" height="7.93" fill="#fbefb4"/>
<rect x="358.09" y="304.66" width="18.05" height="7.93" fill="#fbefb4"/>
<rect x="358.09" y="311.99" width="18.05" height="7.93" fill="#fbefb4"/>
<rect x="358.09" y="319.32" width="18.05" height="7.93" fill="#e5eef3"/>
<rect x="358.09" y="326.65" width="18.05" height="7.93" fill="#f7f7d8"/>
<rect x="358.09" y="333.98" width="18.05" height="7.93" fill="#f4f6df"/>
<rect x="358.09" y="341.31" width="18.05" height="7.93" fill="#f4f6df"/>
<rect x="358.09" y="348.64" width="18.05" height="7.93" fill="#f1f5e7"/>
<rect x="358.09" y="355.97" width="18.05" height="7.93" fill="#f1f5e7"/>
<rect x="358.09" y="363.30" width="18.05" height="7.93" fill="#f4f6df"/>
<rect x="358.09" y="370.63" width="18.05" height="7.93" fill="#f1f5e7"/>
<rect x="358.09" y="377.96" width="18.05" height="7.93" fill="#eaf2f0"/>
<rect x="358.09" y="385.29" width="18.05" height="7.93" fill="#f1f5e7"/>
<rect x="358.09" y="392.62" width="18.05" height="7.93" fill="#eaf2f0"/>
<rect x="358.09" y="399.95" width="18.05" height="7.93" fill="#f4f6df"/>
<rect x="358.09" y="407.28" width="18.05" height="7.93" fill="#f7f7d8"/>
<rect x="358.09" y="414.61" width="18.05" height="7.93" fill="#eaf2f0"/>
<rect x="358.09" y="421.94" width="18.05" height="7.93" fill="#f1f5e7"/>
<rect x="358.09" y="429.27" width="18.05" height="7.93" fill="#f4f6df"/>
<rect x="375.55" y="70.10" width="18.05" height="7.93" fill="#e7eff3"/>
<rect x="375.55" y="77.43" width="18.05" height="7.93" fill="#e7eff3"/>
<rect x="375.55" y="84.76" width="18.05" height="7.93" fill="#eef4ee"/>
<rect x="375.55" y="92.09" width="18.05" height="7.93" fill="#f1f5e7"/>
<rect x="375.55" y="99.42" width="18.05" height="7.93" fill="#f1f5e7"/>
<rect x="375.55" y="106.75" width="18.05" height="7.93" fill="#f4f6df"/>
<rect x="375.55" y="114.08" width="18.05" height="7.93" fill="#f1f5e7"/>
<rect x="375.55" y="121.41" width="18.05" height="7.93" fill="#f4f6df"/>
<rect x="375.55" y="128.74" width="18.05" height="7.93" fill="#eaf2f0"/>
<rect x="375.55" y="136.07" width="18.05" height="7.93" fill="#f7f7d8"/>
<rect x="375.55" y="143.40" width="18.05" height="7.93" fill="#f9f6ce"/>
<rect x="375.55" y="150.73" width="18.05" height="7.93" fill="#f9f6ce"/>
<rect x="375.55" y="158.06" width="18.05" height="7.93" fill="#f9f6ce"/>
<rect x="375.55" y="165.39" width="18.05" height="7.93" fill="#f9f6ce"/>
<rect x="375.55" y="172.72" width="18.05" height="7.93" fill="#faf4c4"/>
<rect x="375.55" y="180.05" width="18.05" height="7.93" fill="#f4f6df"/>
<rect x="375.55" y="187.38" width="18.05" height="7.93" fill="#f7f7d8"/>
<rect x="375.55" y="194.71" width="18.05" height="7.93" fill="#f7f7d8"/>
<rect x="375.55" y="202.04" width="18.05" height="7.93" fill="#f7f7d8"/>
<rect x="375.55" y="209.37" width="18.05" height="7.93" fill="#f7f7d8"/>
<rect x="375.55" y="216.70" width="18.05" height="7.93" fill="#f4f6df"/>
<rect x="375.55" y="224.03" width="18.05" height="7.93" fill="#f1f5e7"/>
<rect x="375.55" y="231.36" width="18.05" height="7.93" fill="#f4f6df"/>
<rect x="375.55" y="238.69" width="18.05" height="7.93" fill="#f1f5e7"/>
<rect x="375.55" y="246.02" width="18.05" height="7.93" fill="#f1f5e7"/>
<rect x="375.55" y="253.35" width="18.05" height="7.93" fill="#e7eff3"/>
<rect x="375.55" y="260.68" width="18.05" height="7.93" fill="#f1f5e7"/>
<rect x="375.55" y="268.01" width="18.05" height="7.93" fill="#f7f7d8"/>
<rect x="375.55" y="275.34" width="18.05" height="7.93" fill="#f7f7d8"/>
<rect x="375.55" y="282.67" width="18.05" height="7.93" fill="#f4f6df"/>
<rect x="375.55" y="290.00" width="18.05" height="7.93" fill="#f7f7d8"/>
<rect x="375.55" y="297.33" width="18.05" height="7.93" fill="#f1f5e7"/>
<rect x="375.55" y="304.66" width="18.05" height="7.93" fill="#e7eff3"/>
<rect x="375.55" y="311.99" width="18.05" height="7.93" fill="#eaf2f0"/>
<rect x="375.55" y="319.32" width="18.05" height="7.93" fill="#f4f6df"/>
<rect x="375.55" y="326.65" width="18.05" height="7.93" fill="#f4f6df"/>
<rect x="375.55" y="333.98" width="18.05" height="7.93" fill="#f4f6df"/>
<rect x="375.55" y="341.31" width="18.05" height="7.93" fill="#f1f5e7"/>
<rect x="375.55" y="348.64" width="18.05" height="7.93" fill="#f9f6ce"/>
<rect x="375.55" y="355.97" width="18.05" height="7.93" fill="#f4f6df"/>
<rect x="375.55" y="363.30" width="18.05" height="7.93" fill="#f4f6df"/>
<rect x="375.55" y="370.63" width="18.05" height="7.93" fill="#f7f7d8"/>
<rect x="375.55" y="377.96" width="18.05" height="7.93" fill="#f7f7d8"/>
<rect x="375.55" y="385.29" width="18.05" height="7.93" fill="#f4f6df"/>
<rect x="375.55" y="392.62" width="18.05" height="7.93" fill="#f7f7d8"/>
<rect x="375.55" y="399.95" width="18.05" height="7.93" fill="#f7f7d8"/>
<rect x="375.55" y="407.28" width="18.05" height="7.93" fill="#f4f6df"/>
<rect x="375.55" y="414.61" width="18.05" height="7.93" fill="#f4f6df"/>
<rect x="375.55" y="421.94" width="18.05" height="7.93" fill="#f4f6df"/>
<rect x="375.55" y="429.27" width="18.05" height="7.93" fill="#f7f7d8"/>
<rect x="9.00" y="57.80" width="17.50" height="9.60" fill="#E0665F"/>
<rect x="26.45" y="57.80" width="17.50" height="9.60" fill="#E0665F"/>
<rect x="43.91" y="57.80" width="17.50" height="9.60" fill="#E0665F"/>
<rect x="61.36" y="57.80" width="17.50" height="9.60" fill="#E0665F"/>
<rect x="78.82" y="57.80" width="17.50" height="9.60" fill="#6D93EE"/>
<rect x="96.27" y="57.80" width="17.50" height="9.60" fill="#E0665F"/>
<rect x="113.73" y="57.80" width="17.50" height="9.60" fill="#E0665F"/>
<rect x="131.18" y="57.80" width="17.50" height="9.60" fill="#E0665F"/>
<rect x="148.64" y="57.80" width="17.50" height="9.60" fill="#E0665F"/>
<rect x="166.09" y="57.80" width="17.50" height="9.60" fill="#6D93EE"/>
<rect x="183.55" y="57.80" width="17.50" height="9.60" fill="#6D93EE"/>
<rect x="201.00" y="57.80" width="17.50" height="9.60" fill="#6D93EE"/>
<rect x="218.45" y="57.80" width="17.50" height="9.60" fill="#6D93EE"/>
<rect x="235.91" y="57.80" width="17.50" height="9.60" fill="#6D93EE"/>
<rect x="253.36" y="57.80" width="17.50" height="9.60" fill="#6D93EE"/>
<rect x="270.82" y="57.80" width="17.50" height="9.60" fill="#6D93EE"/>
<rect x="288.27" y="57.80" width="17.50" height="9.60" fill="#6D93EE"/>
<rect x="305.73" y="57.80" width="17.50" height="9.60" fill="#6D93EE"/>
<rect x="323.18" y="57.80" width="17.50" height="9.60" fill="#6D93EE"/>
<rect x="340.64" y="57.80" width="17.50" height="9.60" fill="#6D93EE"/>
<rect x="358.09" y="57.80" width="17.50" height="9.60" fill="#E0665F"/>
<rect x="375.55" y="57.80" width="17.50" height="9.60" fill="#E0665F"/>
<path d="M105.00 57.20L105.00 51.00 M122.45 57.20L122.45 51.00 M105.00 51.00L122.45 51.00 M87.55 57.20L87.55 48.30 M113.73 51.00L113.73 48.30 M87.55 48.30L113.73 48.30 M70.09 57.20L70.09 47.90 M100.64 48.30L100.64 47.90 M70.09 47.90L100.64 47.90 M52.64 57.20L52.64 45.60 M85.36 47.90L85.36 45.60 M52.64 45.60L85.36 45.60 M35.18 57.20L35.18 44.40 M69.00 45.60L69.00 44.40 M35.18 44.40L69.00 44.40 M17.73 57.20L17.73 44.00 M52.09 44.40L52.09 44.00 M17.73 44.00L52.09 44.00 M139.91 57.20L139.91 41.60 M157.36 57.20L157.36 41.60 M139.91 41.60L157.36 41.60 M34.91 44.00L34.91 34.50 M148.64 41.60L148.64 34.50 M34.91 34.50L148.64 34.50 M192.27 57.20L192.27 54.20 M209.73 57.20L209.73 54.20 M192.27 54.20L209.73 54.20 M174.82 57.20L174.82 50.50 M201.00 54.20L201.00 50.50 M174.82 50.50L201.00 50.50 M244.64 57.20L244.64 53.00 M262.09 57.20L262.09 53.00 M244.64 53.00L262.09 53.00 M227.18 57.20L227.18 50.00 M253.36 53.00L253.36 50.00 M227.18 50.00L253.36 50.00 M187.91 50.50L187.91 46.50 M240.27 50.00L240.27 46.50 M187.91 46.50L240.27 46.50 M279.55 57.20L279.55 52.30 M297.00 57.20L297.00 52.30 M279.55 52.30L297.00 52.30 M331.91 57.20L331.91 52.80 M349.36 57.20L349.36 52.80 M331.91 52.80L349.36 52.80 M314.45 57.20L314.45 51.20 M340.64 52.80L340.64 51.20 M314.45 51.20L340.64 51.20 M288.27 52.30L288.27 48.90 M327.55 51.20L327.55 48.90 M288.27 48.90L327.55 48.90 M366.82 57.20L366.82 47.30 M384.27 57.20L384.27 47.30 M366.82 47.30L384.27 47.30 M307.91 48.90L307.91 40.50 M375.55 47.30L375.55 40.50 M307.91 40.50L375.55 40.50 M214.09 46.50L214.09 29.70 M341.73 40.50L341.73 29.70 M214.09 29.70L341.73 29.70 M91.77 34.50L91.77 5.40 M277.91 29.70L277.91 5.40 M91.77 5.40L277.91 5.40" stroke="#454545" stroke-width="1.15" fill="none" stroke-linecap="square"/>
<text x="396.3" y="66.6" font-size="9.8" font-weight="bold" fill="#111">Type</text>
<text x="396" y="75.67" font-size="5.4" fill="#2a2a2a" stroke="#2a2a2a" stroke-width="0.06">ITGAL</text>
<text x="396" y="83.00" font-size="5.4" fill="#2a2a2a" stroke="#2a2a2a" stroke-width="0.06">CORO1A</text>
<text x="396" y="90.33" font-size="5.4" fill="#2a2a2a" stroke="#2a2a2a" stroke-width="0.06">MAP4K1</text>
<text x="396" y="97.66" font-size="5.4" fill="#2a2a2a" stroke="#2a2a2a" stroke-width="0.06">DOCK2</text>
<text x="396" y="104.98" font-size="5.4" fill="#2a2a2a" stroke="#2a2a2a" stroke-width="0.06">NCKAP1L</text>
<text x="396" y="112.31" font-size="5.4" fill="#2a2a2a" stroke="#2a2a2a" stroke-width="0.06">GBP1</text>
<text x="396" y="119.65" font-size="5.4" fill="#2a2a2a" stroke="#2a2a2a" stroke-width="0.06">NLRC5</text>
<text x="396" y="126.97" font-size="5.4" fill="#2a2a2a" stroke="#2a2a2a" stroke-width="0.06">MYO1F</text>
<text x="396" y="134.31" font-size="5.4" fill="#2a2a2a" stroke="#2a2a2a" stroke-width="0.06">MYO1G</text>
<text x="396" y="141.64" font-size="5.4" fill="#2a2a2a" stroke="#2a2a2a" stroke-width="0.06">HLA-DQA1</text>
<text x="396" y="148.97" font-size="5.4" fill="#2a2a2a" stroke="#2a2a2a" stroke-width="0.06">BTN3A2</text>
<text x="396" y="156.29" font-size="5.4" fill="#2a2a2a" stroke="#2a2a2a" stroke-width="0.06">MARS</text>
<text x="396" y="163.62" font-size="5.4" fill="#2a2a2a" stroke="#2a2a2a" stroke-width="0.06">GBP2</text>
<text x="396" y="170.96" font-size="5.4" fill="#2a2a2a" stroke="#2a2a2a" stroke-width="0.06">SEMA4D</text>
<text x="396" y="178.28" font-size="5.4" fill="#2a2a2a" stroke="#2a2a2a" stroke-width="0.06">PRKD2</text>
<text x="396" y="185.61" font-size="5.4" fill="#2a2a2a" stroke="#2a2a2a" stroke-width="0.06">ITGA4</text>
<text x="396" y="192.95" font-size="5.4" fill="#2a2a2a" stroke="#2a2a2a" stroke-width="0.06">STK10</text>
<text x="396" y="200.28" font-size="5.4" fill="#2a2a2a" stroke="#2a2a2a" stroke-width="0.06">SFI1</text>
<text x="396" y="207.60" font-size="5.4" fill="#2a2a2a" stroke="#2a2a2a" stroke-width="0.06">FMNL1</text>
<text x="396" y="214.94" font-size="5.4" fill="#2a2a2a" stroke="#2a2a2a" stroke-width="0.06">PARVG</text>
<text x="396" y="222.27" font-size="5.4" fill="#2a2a2a" stroke="#2a2a2a" stroke-width="0.06">PIK3CD</text>
<text x="396" y="229.59" font-size="5.4" fill="#2a2a2a" stroke="#2a2a2a" stroke-width="0.06">DEF6</text>
<text x="396" y="236.93" font-size="5.4" fill="#2a2a2a" stroke="#2a2a2a" stroke-width="0.06">TAP1</text>
<text x="396" y="244.25" font-size="5.4" fill="#2a2a2a" stroke="#2a2a2a" stroke-width="0.06">IFI30</text>
<text x="396" y="251.59" font-size="5.4" fill="#2a2a2a" stroke="#2a2a2a" stroke-width="0.06">ITGB2</text>
<text x="396" y="258.91" font-size="5.4" fill="#2a2a2a" stroke="#2a2a2a" stroke-width="0.06">ACAP1</text>
<text x="396" y="266.25" font-size="5.4" fill="#2a2a2a" stroke="#2a2a2a" stroke-width="0.06">ANKRD44</text>
<text x="396" y="273.57" font-size="5.4" fill="#2a2a2a" stroke="#2a2a2a" stroke-width="0.06">DOCK8</text>
<text x="396" y="280.90" font-size="5.4" fill="#2a2a2a" stroke="#2a2a2a" stroke-width="0.06">DOCK10</text>
<text x="396" y="288.24" font-size="5.4" fill="#2a2a2a" stroke="#2a2a2a" stroke-width="0.06">CIITA</text>
<text x="396" y="295.56" font-size="5.4" fill="#2a2a2a" stroke="#2a2a2a" stroke-width="0.06">STAT1</text>
<text x="396" y="302.89" font-size="5.4" fill="#2a2a2a" stroke="#2a2a2a" stroke-width="0.06">FYB1</text>
<text x="396" y="310.22" font-size="5.4" fill="#2a2a2a" stroke="#2a2a2a" stroke-width="0.06">CD2</text>
<text x="396" y="317.55" font-size="5.4" fill="#2a2a2a" stroke="#2a2a2a" stroke-width="0.06">ARHGAP9</text>
<text x="396" y="324.88" font-size="5.4" fill="#2a2a2a" stroke="#2a2a2a" stroke-width="0.06">HLA-C</text>
<text x="396" y="332.21" font-size="5.4" fill="#2a2a2a" stroke="#2a2a2a" stroke-width="0.06">RNF213</text>
<text x="396" y="339.54" font-size="5.4" fill="#2a2a2a" stroke="#2a2a2a" stroke-width="0.06">AKNA</text>
<text x="396" y="346.88" font-size="5.4" fill="#2a2a2a" stroke="#2a2a2a" stroke-width="0.06">MYO9B</text>
<text x="396" y="354.20" font-size="5.4" fill="#2a2a2a" stroke="#2a2a2a" stroke-width="0.06">INPP5D</text>
<text x="396" y="361.53" font-size="5.4" fill="#2a2a2a" stroke="#2a2a2a" stroke-width="0.06">CCDC88C</text>
<text x="396" y="368.87" font-size="5.4" fill="#2a2a2a" stroke="#2a2a2a" stroke-width="0.06">HLA-DPA1</text>
<text x="396" y="376.19" font-size="5.4" fill="#2a2a2a" stroke="#2a2a2a" stroke-width="0.06">FMNL3</text>
<text x="396" y="383.52" font-size="5.4" fill="#2a2a2a" stroke="#2a2a2a" stroke-width="0.06">HLA-DRB1</text>
<text x="396" y="390.86" font-size="5.4" fill="#2a2a2a" stroke="#2a2a2a" stroke-width="0.06">CD74</text>
<text x="396" y="398.18" font-size="5.4" fill="#2a2a2a" stroke="#2a2a2a" stroke-width="0.06">STAT2</text>
<text x="396" y="405.51" font-size="5.4" fill="#2a2a2a" stroke="#2a2a2a" stroke-width="0.06">LAP3</text>
<text x="396" y="412.85" font-size="5.4" fill="#2a2a2a" stroke="#2a2a2a" stroke-width="0.06">PREX1</text>
<text x="396" y="420.17" font-size="5.4" fill="#2a2a2a" stroke="#2a2a2a" stroke-width="0.06">ARHGAP30</text>
<text x="396" y="427.50" font-size="5.4" fill="#2a2a2a" stroke="#2a2a2a" stroke-width="0.06">IL10RA</text>
<text x="396" y="434.83" font-size="5.4" fill="#2a2a2a" stroke="#2a2a2a" stroke-width="0.06">RFX5</text>
<text transform="translate(14.43 440.50) rotate(90)" x="0" y="0" font-size="9.95" fill="#111" stroke="#111" stroke-width="0.3">HSK0009</text>
<text transform="translate(31.88 440.50) rotate(90)" x="0" y="0" font-size="9.95" fill="#111" stroke="#111" stroke-width="0.3">HSK037</text>
<text transform="translate(49.34 440.50) rotate(90)" x="0" y="0" font-size="9.95" fill="#111" stroke="#111" stroke-width="0.3">PHC_001</text>
<text transform="translate(66.79 440.50) rotate(90)" x="0" y="0" font-size="9.95" fill="#111" stroke="#111" stroke-width="0.3">PHC_002</text>
<text transform="translate(84.25 440.50) rotate(90)" x="0" y="0" font-size="9.95" fill="#111" stroke="#111" stroke-width="0.3">NRCOS320</text>
<text transform="translate(101.70 440.50) rotate(90)" x="0" y="0" font-size="9.95" fill="#111" stroke="#111" stroke-width="0.3">HSK013</text>
<text transform="translate(119.15 440.50) rotate(90)" x="0" y="0" font-size="9.95" fill="#111" stroke="#111" stroke-width="0.3">HSK039</text>
<text transform="translate(136.61 440.50) rotate(90)" x="0" y="0" font-size="9.95" fill="#111" stroke="#111" stroke-width="0.3">HSK035</text>
<text transform="translate(154.06 440.50) rotate(90)" x="0" y="0" font-size="9.95" fill="#111" stroke="#111" stroke-width="0.3">HSK042</text>
<text transform="translate(171.52 440.50) rotate(90)" x="0" y="0" font-size="9.95" fill="#111" stroke="#111" stroke-width="0.3">NRCOS474</text>
<text transform="translate(188.97 440.50) rotate(90)" x="0" y="0" font-size="9.95" fill="#111" stroke="#111" stroke-width="0.3">NRCOS284</text>
<text transform="translate(206.43 440.50) rotate(90)" x="0" y="0" font-size="9.95" fill="#111" stroke="#111" stroke-width="0.3">NRCOS490</text>
<text transform="translate(223.88 440.50) rotate(90)" x="0" y="0" font-size="9.95" fill="#111" stroke="#111" stroke-width="0.3">NRCOS409</text>
<text transform="translate(241.34 440.50) rotate(90)" x="0" y="0" font-size="9.95" fill="#111" stroke="#111" stroke-width="0.3">NRCOS430</text>
<text transform="translate(258.79 440.50) rotate(90)" x="0" y="0" font-size="9.95" fill="#111" stroke="#111" stroke-width="0.3">NRCOS546</text>
<text transform="translate(276.25 440.50) rotate(90)" x="0" y="0" font-size="9.95" fill="#111" stroke="#111" stroke-width="0.3">NRCOS461</text>
<text transform="translate(293.70 440.50) rotate(90)" x="0" y="0" font-size="9.95" fill="#111" stroke="#111" stroke-width="0.3">NRCOS540</text>
<text transform="translate(311.15 440.50) rotate(90)" x="0" y="0" font-size="9.95" fill="#111" stroke="#111" stroke-width="0.3">NRCOS507</text>
<text transform="translate(328.61 440.50) rotate(90)" x="0" y="0" font-size="9.95" fill="#111" stroke="#111" stroke-width="0.3">NRCOS375</text>
<text transform="translate(346.06 440.50) rotate(90)" x="0" y="0" font-size="9.95" fill="#111" stroke="#111" stroke-width="0.3">NRCOS379</text>
<text transform="translate(363.52 440.50) rotate(90)" x="0" y="0" font-size="9.95" fill="#111" stroke="#111" stroke-width="0.3">HSK015</text>
<text transform="translate(380.97 440.50) rotate(90)" x="0" y="0" font-size="9.95" fill="#111" stroke="#111" stroke-width="0.3">HSK020</text>
<rect x="432.8" y="56.7" width="11" height="147.5" fill="url(#cg)"/>
<text x="448.6" y="66.50" font-size="10.3" fill="#111" stroke="#111" stroke-width="0.3">3</text>
<text x="448.6" y="89.25" font-size="10.3" fill="#111" stroke="#111" stroke-width="0.3">2</text>
<text x="448.6" y="112.00" font-size="10.3" fill="#111" stroke="#111" stroke-width="0.3">1</text>
<text x="448.6" y="134.75" font-size="10.3" fill="#111" stroke="#111" stroke-width="0.3">0</text>
<text x="448.6" y="157.50" font-size="10.3" fill="#111" stroke="#111" stroke-width="0.3">−1</text>
<text x="448.6" y="180.25" font-size="10.3" fill="#111" stroke="#111" stroke-width="0.3">−2</text>
<text x="448.6" y="203.00" font-size="10.3" fill="#111" stroke="#111" stroke-width="0.3">−3</text>
<text x="464.8" y="64.8" font-size="10.5" font-weight="bold" fill="#111">Type</text>
<rect x="464.4" y="67.2" width="15" height="13.9" fill="#E0665F"/>
<rect x="464.4" y="81.1" width="15" height="13.9" fill="#6D93EE"/>
<text x="483.7" y="78.2" font-size="10.5" fill="#111" stroke="#111" stroke-width="0.2">Healthy</text>
<text x="483.7" y="92.0" font-size="10.7" fill="#111" stroke="#111" stroke-width="0.2">Inflammatory</text></svg>
</body></html>
